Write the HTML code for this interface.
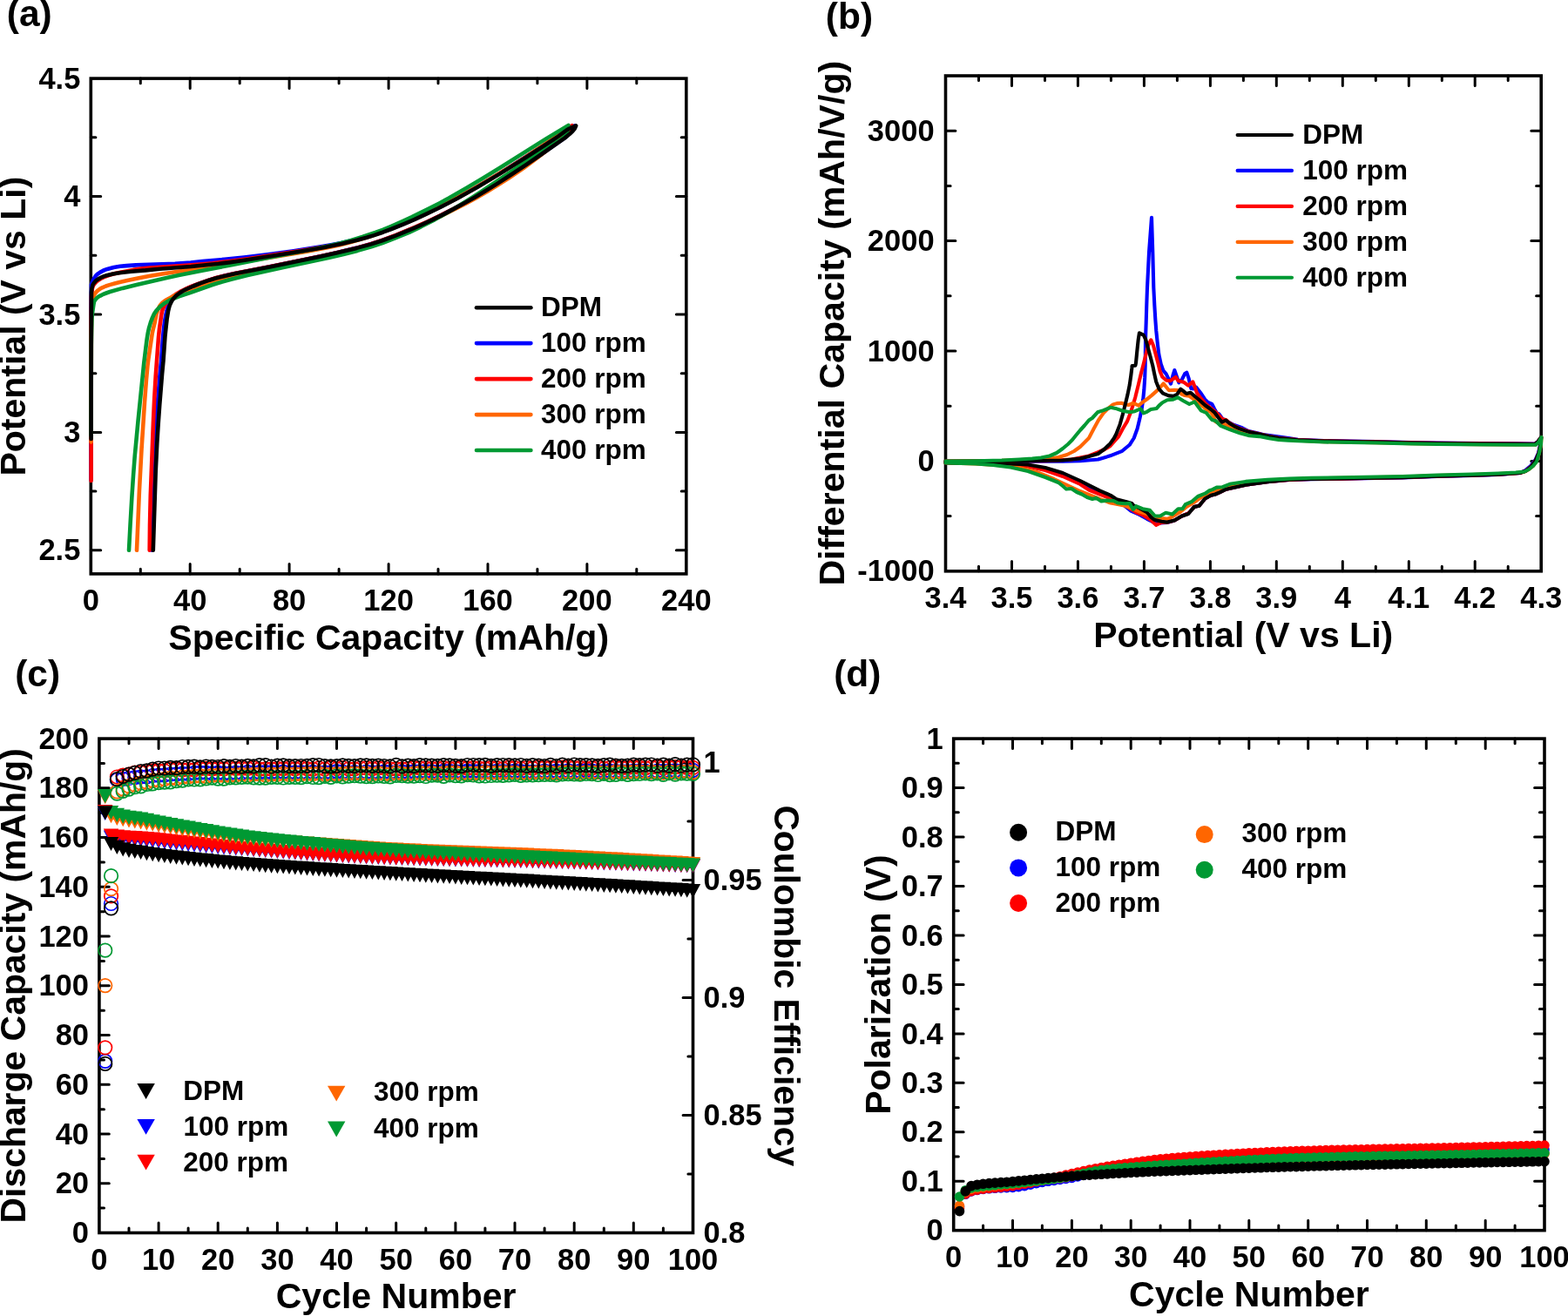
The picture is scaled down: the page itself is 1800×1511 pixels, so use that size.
<!DOCTYPE html>
<html lang="en"><head><meta charset="utf-8"><title>Electrochemical performance: DPM vs 100-400 rpm</title>
<style>html,body{margin:0;padding:0;background:#fff}body{width:1800px;height:1511px;overflow:hidden}svg{display:block}text{font-family:'Liberation Sans', Arial, Helvetica, sans-serif;font-weight:700;fill:#000}</style>
</head><body>
<svg width="1800" height="1511" viewBox="0 0 1800 1511" role="img" aria-label="Four-panel electrochemical performance figure">
<rect width="1800" height="1511" fill="#fff"/>
<g id="panel-a">
<rect x="104.3" y="90.1" width="683.5" height="568.8" fill="none" stroke="#000" stroke-width="3.6"/>
<path d="M161.3 658.9v-5.6M161.3 90.1v5.6M275.2 658.9v-5.6M275.2 90.1v5.6M389.1 658.9v-5.6M389.1 90.1v5.6M503 658.9v-5.6M503 90.1v5.6M616.9 658.9v-5.6M616.9 90.1v5.6M730.8 658.9v-5.6M730.8 90.1v5.6M218.2 658.9v-11.4M218.2 90.1v11.4M332.1 658.9v-11.4M332.1 90.1v11.4M446.1 658.9v-11.4M446.1 90.1v11.4M560 658.9v-11.4M560 90.1v11.4M673.9 658.9v-11.4M673.9 90.1v11.4M104.3 564.1h5.6M787.8 564.1h-5.6M104.3 428.7h5.6M787.8 428.7h-5.6M104.3 293.2h5.6M787.8 293.2h-5.6M104.3 157.8h5.6M787.8 157.8h-5.6M104.3 631.8h11.4M787.8 631.8h-11.4M104.3 496.4h11.4M787.8 496.4h-11.4M104.3 361h11.4M787.8 361h-11.4M104.3 225.5h11.4M787.8 225.5h-11.4" fill="none" stroke="#000" stroke-width="3.0" stroke-linecap="round"/>
<path d="M104.6 551L104.7 364.7L105 328.6L105 327.1L105.3 325.7L105.8 324.3L107.8 320.2L109.4 317.5L110.3 316.3L112.5 314.3L115 312.6L117.6 311.2L120.4 309.9L123.2 308.9L130.5 307L137.9 305.8L145.4 305.1L155.9 304.4L200.9 302.7L218.9 301.5L232.4 300.1L257.8 297.8L280.2 295.5L307.1 292.2L336.9 288.2L366.6 283.6L379.9 281.3L391.7 279L400.5 277L410.7 274.5L419.4 272.1L429.5 269.1L439.4 265.8L449.3 262.1L466 255.3L475.7 251.2L488 245.6L502.9 238.4L513.6 233L525.6 226.7L549.2 213.5L575 198.1L601.7 181.3L632.1 161.8L640.8 156L650.6 149L654.5 146.8L660 144.3L658.6 147L657.8 148.2L655 151.8L650.7 156L647.3 158.9L605.3 188.1L587.8 199.7L572.6 209.5L559.9 217.4L547 225.1L533.9 232.5L520.7 239.7L508.7 246L498 251.3L485.7 257L473.3 262.5L453.9 270.4L438.3 276.1L425.5 280.3L409.6 284.6L386.2 290.2L367.1 294.4L309.7 306.3L269.8 314L258.1 316.6L248 319.2L240.8 321.4L229.5 325.4L221 328.6L214.2 331.7L210.1 333.7L206.3 336L202.6 338.7L199.3 341.7L197.3 344L194.9 347.7L193 351.9L191.2 357.6L190 363.5L189 369.4L187.9 378.4L186.9 388.8L185.1 414.3L183.6 429.3L181.1 460.7L179.3 486.2L178 508.7L177.1 528.2L176.4 547.7L174.2 631.8" fill="none" stroke="#0000ff" stroke-width="4.6" stroke-linejoin="round" stroke-linecap="round"/>
<path d="M104.6 552L104.7 383.8L105 340.3L105.4 334.3L105.9 331.3L106.7 328.5L107.4 327.2L109.4 324.8L110.4 323.7L112.8 321.8L116.6 319.4L119.3 318.1L122.1 317L126.4 315.6L132.2 314.1L139.5 312.4L152.8 309.9L163.2 308.4L172.1 307.5L217.1 304.5L244 302.2L263.4 300L284.2 297.2L351.1 287L367.4 284.3L380.7 281.9L393.9 279.2L405.6 276.4L418.6 272.9L431.5 268.9L441.5 265.5L452.7 261.1L469.3 254.3L481.7 248.8L495.3 242.4L508.8 235.8L522.1 228.9L536.6 221L549.7 213.6L565.2 204.4L579.3 195.8L595.8 185.4L633.5 160.7L640.8 155.5L650.3 148.1L652.8 146.5L656.7 144.2L656.1 147.2L655.6 148.5L654.8 149.7L652.8 152L647.2 157.2L626.9 172.8L612.4 183.4L600.1 192.1L582.6 203.7L568.6 212.6L555.8 220.4L544.1 227.1L530.9 234.3L517.6 241.3L504.2 248L490.6 254.5L476.9 260.6L454.7 269.8L439.2 275.7L426.4 280L410.5 284.4L388.6 289.7L368.1 294.3L310.7 306.1L269.3 314L256.2 317L246 319.6L238.9 321.9L227.5 325.9L219.1 329.2L212.3 332.2L206.9 334.9L201.7 338L198.1 340.7L193.7 344.7L190.6 348.1L188.9 350.5L187 354.6L186 357.5L185.2 361.9L182.9 378.3L182 387.2L178.7 432.2L177.2 457.7L175.9 486.2L172.8 568.7L172 603.3L171.7 631.8" fill="none" stroke="#ff0000" stroke-width="4.6" stroke-linejoin="round" stroke-linecap="round"/>
<path d="M104.6 507.5L104.8 387.3L105 364.8L105.3 352.8L105.8 348.3L106.9 342.4L107.8 339.5L108.4 338.1L109.1 336.9L111.2 334.5L112.3 333.5L114.6 331.8L117.3 330.3L121.5 328.5L125.7 327.1L131.5 325.5L137.4 324L146.2 322.1L159.4 319.3L171.2 317.1L186 314.6L248.4 305.2L297.4 297.7L350.8 288.9L374.5 284.6L389.2 281.5L400.8 278.6L413.8 274.8L429.5 269.7L440.8 265.6L453.4 260.6L470 253.6L483.7 247.4L498.6 240.3L512 233.6L525.3 226.6L541.2 217.9L555.5 209.8L572.3 199.8L586.4 191.1L602.9 180.7L621.7 168.2L645.3 152.1L648.8 149.4L652 146.2L651.9 147.8L651.5 150.7L650.8 151.9L646.6 156.4L644.4 158.4L628.3 172.1L614.2 183.2L600.9 193.1L584.7 204L572.1 212.1L559.2 220L547.5 226.7L535.6 233.2L520.9 240.8L506.1 248.1L491.2 255.1L476 261.8L451.1 272.3L437.1 277.8L424.3 282.1L408.4 286.6L388 291.8L371.9 295.6L310.2 308.9L266.1 318.3L248.5 322.4L235.4 325.9L225.5 329.2L210 335L204.4 337.3L199 339.9L191.1 344.3L188.5 345.9L186.3 347.8L184.3 350.1L182.7 352.6L180.9 356.7L179.5 361.1L177.8 369.9L175.6 378.7L174.7 383.1L170.5 411.3L169.4 420.3L167.9 436.8L166 462.2L162.5 516.2L159.9 564.2L157 631.8" fill="none" stroke="#ff6600" stroke-width="4.6" stroke-linejoin="round" stroke-linecap="round"/>
<path d="M104.6 500L104.8 396.4L105.1 379.8L105.5 364.8L106.1 358.8L107.4 349.9L107.9 346.9L108.5 345.6L109.3 344.3L111.3 342L112.5 341.1L115.1 339.6L117.8 338.2L122 336.5L126.2 335L140.7 330.9L156.7 326.9L190.4 319.2L205.1 316.1L233.1 310.4L267 304L321.5 293.3L358.5 286.3L376.1 282.7L390.7 279.3L402.3 276.2L416.7 271.8L430.9 267L439.4 263.8L449.1 259.8L461.5 254.4L472.4 249.4L492.7 239.4L504.7 233.2L515.2 227.5L536.1 215.5L554.2 204.8L574.6 192.2L626.8 159.4L652.5 143.9L652.2 146.9L651.6 149.8L650.6 152.7L650 154L648.2 156.4L645.9 158.5L643.6 160.3L628.2 169.7L615.5 177.7L598 189.3L573.1 206.2L551.9 220.4L541.8 226.9L526.5 236.4L512.3 244.8L499.2 252.1L483.2 260.3L469.6 266.8L453 273.7L439 279.1L426.2 283.4L410.3 287.9L394.3 292L378.2 295.7L325.3 306.9L284.3 316.1L265.3 320.8L249.4 325.2L243.8 327L218.3 336.1L205.5 340.3L198.4 343L194.4 344.9L190.5 347.2L186.8 349.7L183.3 352.6L181.2 354.8L179.2 357.1L176.7 360.8L174.9 364.9L172.8 370.6L171.1 376.3L169.8 382.2L168.6 389.6L167.3 400L165.3 416.4L158.5 483.6L154.7 523.9L153 546.4L151.3 571.9L149.5 603.3L148 631.8" fill="none" stroke="#009933" stroke-width="4.6" stroke-linejoin="round" stroke-linecap="round"/>
<path d="M104.6 504L104.8 361.3L105 335.7L105.4 331.2L106.5 326.9L107.3 325.6L109.3 323.2L110.3 322.2L112.8 320.4L116.7 318.3L119.5 317.1L122.4 316.2L129.7 314.4L137.1 313.2L150.6 311.7L167 310.4L183.5 308.7L219.4 306L250.8 302.8L264.2 301.1L279.1 299L344.4 288.7L371.1 284.2L393.2 279.8L410.7 275.5L420.9 272.7L429.5 270.1L439.4 266.7L449.3 263L464.6 256.8L475.6 252.1L488 246.4L502.8 239.3L513.6 233.8L525.5 227.5L547.8 215L573.6 199.6L602.9 181.2L635.7 160L640.7 156.7L650.4 149.5L652.9 148L655.6 146.7L661.2 144.4L660 147.2L659.2 148.4L657.4 150.6L654 153.8L648.1 158.6L621 177.5L603.7 189.4L586.1 201L569.7 211.6L556.9 219.5L545.3 226.4L532.2 233.7L519 240.9L507 247.1L496.3 252.4L484 258.1L473 262.9L453.5 270.8L438 276.5L425.1 280.6L409.2 284.9L385.8 290.5L366.7 294.7L310.8 306.3L269.5 314.3L257.8 316.9L247.6 319.5L240.4 321.7L230.5 325.2L222.1 328.5L215.2 331.5L211.1 333.4L207.3 335.7L203.6 338.3L201.4 340.3L198.4 343.7L196.8 346.2L194.9 350.4L194 353.2L193 357.6L191.6 366.5L190.6 375.5L189.5 385.9L187.5 414.4L186.1 429.3L183.2 465.3L181.6 487.8L180.3 508.7L178.7 541.7L175.8 631.8" fill="none" stroke="#000000" stroke-width="4.6" stroke-linejoin="round" stroke-linecap="round"/>
<text x="104.3" y="701.2" font-size="34.5" text-anchor="middle">0</text>
<text x="218.2" y="701.2" font-size="34.5" text-anchor="middle">40</text>
<text x="332.1" y="701.2" font-size="34.5" text-anchor="middle">80</text>
<text x="446.1" y="701.2" font-size="34.5" text-anchor="middle">120</text>
<text x="560" y="701.2" font-size="34.5" text-anchor="middle">160</text>
<text x="673.9" y="701.2" font-size="34.5" text-anchor="middle">200</text>
<text x="787.8" y="701.2" font-size="34.5" text-anchor="middle">240</text>
<text x="92.4" y="643.4" font-size="34.5" text-anchor="end">2.5</text>
<text x="92.4" y="508" font-size="34.5" text-anchor="end">3</text>
<text x="92.4" y="372.6" font-size="34.5" text-anchor="end">3.5</text>
<text x="92.4" y="237.1" font-size="34.5" text-anchor="end">4</text>
<text x="92.4" y="101.7" font-size="34.5" text-anchor="end">4.5</text>
<text x="7.8" y="30.1" font-size="42.5" text-anchor="start">(a)</text>
<text x="446.2" y="746" font-size="41.0" text-anchor="middle">Specific Capacity (mAh/g)</text>
<text x="29.1" y="374.6" font-size="41.0" text-anchor="middle" transform="rotate(-90 29.1 374.6)">Potential (V vs Li)</text>
<path d="M547 353.2L609.4 353.2" fill="none" stroke="#000000" stroke-width="4.6" stroke-linejoin="round" stroke-linecap="round"/>
<text x="621" y="363.1" font-size="31.5" text-anchor="start">DPM</text>
<path d="M547 394.1L609.4 394.1" fill="none" stroke="#0000ff" stroke-width="4.6" stroke-linejoin="round" stroke-linecap="round"/>
<text x="621" y="404" font-size="31.5" text-anchor="start">100 rpm</text>
<path d="M547 435.1L609.4 435.1" fill="none" stroke="#ff0000" stroke-width="4.6" stroke-linejoin="round" stroke-linecap="round"/>
<text x="621" y="445" font-size="31.5" text-anchor="start">200 rpm</text>
<path d="M547 476.1L609.4 476.1" fill="none" stroke="#ff6600" stroke-width="4.6" stroke-linejoin="round" stroke-linecap="round"/>
<text x="621" y="485.9" font-size="31.5" text-anchor="start">300 rpm</text>
<path d="M547 517L609.4 517" fill="none" stroke="#009933" stroke-width="4.6" stroke-linejoin="round" stroke-linecap="round"/>
<text x="621" y="526.9" font-size="31.5" text-anchor="start">400 rpm</text>
</g>
<g id="panel-b">
<rect x="1085.5" y="87" width="683.7" height="568.8" fill="none" stroke="#000" stroke-width="3.6"/>
<path d="M1123.5 655.8v-5.6M1123.5 87v5.6M1199.5 655.8v-5.6M1199.5 87v5.6M1275.4 655.8v-5.6M1275.4 87v5.6M1351.4 655.8v-5.6M1351.4 87v5.6M1427.4 655.8v-5.6M1427.4 87v5.6M1503.3 655.8v-5.6M1503.3 87v5.6M1579.3 655.8v-5.6M1579.3 87v5.6M1655.3 655.8v-5.6M1655.3 87v5.6M1731.2 655.8v-5.6M1731.2 87v5.6M1161.5 655.8v-11.4M1161.5 87v11.4M1237.4 655.8v-11.4M1237.4 87v11.4M1313.4 655.8v-11.4M1313.4 87v11.4M1389.4 655.8v-11.4M1389.4 87v11.4M1465.3 655.8v-11.4M1465.3 87v11.4M1541.3 655.8v-11.4M1541.3 87v11.4M1617.3 655.8v-11.4M1617.3 87v11.4M1693.2 655.8v-11.4M1693.2 87v11.4M1085.5 592.6h5.6M1769.2 592.6h-5.6M1085.5 466.2h5.6M1769.2 466.2h-5.6M1085.5 339.8h5.6M1769.2 339.8h-5.6M1085.5 213.4h5.6M1769.2 213.4h-5.6M1085.5 529.4h11.4M1769.2 529.4h-11.4M1085.5 403h11.4M1769.2 403h-11.4M1085.5 276.6h11.4M1769.2 276.6h-11.4M1085.5 150.2h11.4M1769.2 150.2h-11.4" fill="none" stroke="#000" stroke-width="3.0" stroke-linecap="round"/>
<path d="M1085.5 529.7L1220 529.6L1240 529.3L1260.6 527.5L1274.4 523.3L1288.3 517.8L1296.7 510.8L1301.7 503L1305.6 492.2L1308.3 481.1L1310.6 470L1312.2 458.9L1313.3 447.8L1314.2 433.9L1314.7 420L1315 390L1315.7 370L1316.3 350L1317 330L1319 290L1322 249.7L1323.3 290L1324.3 330L1325.3 350L1326.3 366.7L1327.3 380L1328.7 393.3L1330.3 406.7L1332.7 418L1335.3 425.3L1338.7 429.3L1341.3 434.7L1344 440.7L1346.7 430L1348.3 425L1350.7 432L1353.3 439.3L1356.7 436L1360 429.3L1362.3 427.7L1364.7 434.7L1367.3 446L1370 446.5L1373.3 444.7L1378 450.7L1383.3 458.7L1386.7 462L1391.3 464L1394 469.3L1396.7 474L1399.3 475.3L1403.3 480.7L1410 484.7L1416.7 488L1426 491.3L1433.3 495L1443.3 497.3L1450 499L1459.4 500.3L1478.9 503L1490 504.8L1520 506.1L1550 506.6L1580 507.1L1620 508.1L1650 508.6L1700 509.1L1740 509.4L1762 509.6L1765.5 507L1769.2 502L1768.3 510L1766 520L1762.5 528L1757 535L1751 540L1745 543L1720 544.9L1690 545.9L1650 546.9L1610 548.4L1580 548.9L1540 549.7L1505 550.1L1480 551L1455 553.3L1430 556.7L1407.5 561.7L1400 565.4L1395 567.5L1390 568.8L1383.3 572.5L1376.7 580.5L1370.8 582.1L1364.2 589.5L1356.7 592.5L1348.3 597.5L1340 600L1333 600.5L1327 601L1316.7 595.8L1308 591L1298.3 586.7L1290 580L1275 571L1262.5 566L1250 560.5L1240 554.5L1220 545.5L1200 538.5L1180 534.5L1160 532.7L1085.5 531.3" fill="none" stroke="#0000ff" stroke-width="4.1" stroke-linejoin="round" stroke-linecap="round"/>
<path d="M1085.5 529.7L1200 529.2L1230 527.5L1250 523.5L1260 519.5L1268 516L1274.4 512.2L1279 507L1284.2 501.1L1288.9 492.2L1293.9 483.9L1297.2 475.6L1300 467.2L1303.3 456.1L1306.7 442.2L1310 428.3L1312.2 420L1314.7 410L1318 396.7L1321.3 390.3L1324 396.7L1326.7 406.7L1329.3 416.7L1331.7 426.7L1334.4 432.8L1338.9 436.7L1343.3 437.2L1345.3 436L1349.7 433L1352.7 437.3L1358.7 438.7L1364 442.7L1369.3 438.3L1372 445.3L1374 451.3L1378 456.7L1383.3 462.7L1390 468.7L1396.7 474L1403.3 481.3L1407.3 482L1411.3 485.5L1416.7 488.8L1423.3 492L1434.4 495.8L1445.6 498.2L1456.7 500.8L1467.8 502.8L1490 505.1L1520 506.3L1550 506.8L1580 507.3L1620 508.3L1650 508.8L1700 509.3L1740 509.6L1762 509.8L1765.5 507L1769.2 502L1768.5 510L1766.5 520L1763 528.3L1758 535.3L1752 540.3L1745 543L1720 544.8L1690 545.8L1650 546.8L1610 548.3L1580 548.8L1540 549.6L1505 550L1480 550.9L1455 553.3L1430 556.7L1407.5 561.7L1400 565.4L1395 567.5L1390 568.8L1383.3 572.5L1376.7 580.5L1370.8 582.1L1364.2 589.5L1356.7 592.5L1348.3 597.5L1340 599.8L1333.3 600L1327.1 602.9L1320.8 596.7L1312.5 591.7L1304.2 588.3L1296 583L1288 578L1275 572.5L1262.5 567.5L1250 562.5L1240 556L1220 547L1200 540L1180 535.5L1160 533L1085.5 531.3" fill="none" stroke="#ff0000" stroke-width="4.1" stroke-linejoin="round" stroke-linecap="round"/>
<path d="M1085.5 529.6L1150 528.8L1185 527.5L1205 526.5L1215 525L1225 522L1233 518L1240 513L1246 507L1250 503L1255.6 492.2L1261.1 482.2L1266.7 474.4L1272.2 468.9L1277.8 464.4L1282.2 463.1L1287.8 462.8L1292 464.5L1295.6 465L1300 463.1L1303.3 463.9L1307.2 465.6L1311.1 462.2L1316.7 458.3L1322.2 453.9L1327.8 448.9L1332.2 444.4L1335.6 440.3L1338.9 444.5L1342 448.3L1348 447.7L1352 448L1356.7 452.7L1360 454L1365.3 454.7L1370 458L1376.7 463.3L1383.3 468.7L1390 473.3L1393.3 478.7L1395.3 484L1400 486L1406.7 487.3L1413.3 490L1423.3 494L1434.4 497.5L1445.6 499.5L1456.7 502L1467.8 504L1490 505.8L1520 507.1L1550 507.6L1580 508.1L1620 509.1L1650 509.6L1700 510.1L1740 510.4L1763 510.5L1766 508L1769.4 502L1769 510L1767 520L1764 529.5L1760 535L1755 539L1750 541.8L1740 543.1L1720 544.1L1690 545.1L1650 546.1L1610 547.6L1580 548.1L1540 548.9L1505 549.4L1480 550.2L1455 551.5L1430 553.8L1411.7 557L1400 562.1L1391.7 564.2L1379.2 570.8L1370.8 576.7L1362.5 581.7L1354.2 588.3L1345.8 593.3L1340 595.8L1333.3 595L1325 593L1316 590L1308.3 587.5L1300 584L1291.7 580.8L1283 579L1275 577.5L1262.5 573L1250 567.8L1240 564L1225 557L1210 550L1190 542L1170 537L1150 534.5L1120 532.5L1085.5 531.4" fill="none" stroke="#ff6600" stroke-width="4.1" stroke-linejoin="round" stroke-linecap="round"/>
<path d="M1085.5 529.7L1180 529.3L1220 528.5L1240 526.5L1250 524L1260.6 521L1268 515.5L1274.4 509.4L1278.9 503L1281.4 498.3L1285.6 487.5L1288.9 475.6L1291.7 464.4L1294.4 453.3L1296.7 442.2L1298.3 431.1L1299.3 423L1299.6 420L1303.4 419.7L1304 416.7L1305.3 403.3L1306.7 390L1307.9 382.3L1312.7 384.7L1315.3 390L1318 400L1320.7 410L1323.3 420L1325 428.3L1327.2 438.3L1330.6 446.7L1335 451.7L1341.7 454.4L1347.2 454.9L1351.3 452.7L1355.3 446.7L1358 448.7L1362 452L1366.7 450.7L1371.3 454.7L1376.7 459.3L1383.3 465.3L1390 470L1394 473.3L1398 478.7L1402.7 484.7L1407.3 482.5L1411.3 486L1416.7 489.3L1423.3 492.4L1434.4 496.1L1445.6 498.5L1456.7 501.1L1467.8 503L1490 505.3L1520 506.5L1550 507L1580 507.5L1620 508.5L1650 509L1700 509.5L1740 509.8L1762 510L1765.5 507L1769.2 502L1768.5 510L1766.5 520L1763 528.5L1758 535.5L1752 540.5L1745 543L1720 544.7L1690 545.7L1650 546.7L1610 548.2L1580 548.7L1540 549.5L1505 550L1480 550.8L1455 553.3L1430 556.7L1407.5 561.7L1400 565.4L1395 567.5L1390 568.8L1383.3 572.5L1376.7 580.8L1370.8 582.1L1364.2 590L1356.7 592.5L1348.3 597.5L1340 599.6L1333.3 598.8L1325 596.7L1320.8 593.3L1316.7 588.3L1308 583.5L1301.5 580.5L1299.2 577.9L1293.3 576.2L1281.7 573.3L1275 568.8L1262.5 563.3L1250 557.1L1240 552L1220 543L1200 537L1180 533.5L1160 532.5L1085.5 531.3" fill="none" stroke="#000000" stroke-width="4.1" stroke-linejoin="round" stroke-linecap="round"/>
<path d="M1085.5 529.5L1120 529.2L1150 528.5L1170 527.5L1185 526.5L1195 525.5L1205 523.5L1213 520L1220 515L1226 510L1231 505L1235 500L1240 494L1245 488.5L1250 482.5L1253.9 480L1260 473.3L1266.7 471.1L1275 467.8L1280.6 468.9L1288.9 471.7L1297.2 473.3L1302.8 472.2L1309.4 469.4L1312.8 474.4L1316.7 472.8L1321.1 470L1327.8 468.9L1330.6 465.6L1334.4 462.2L1340 459.3L1346.7 458.7L1352 456.3L1358 460L1365.3 464L1371.3 461.3L1375.3 466.7L1378.7 471.3L1384.7 474L1388 478L1391.3 482L1395.6 483.3L1401.1 488.9L1412.2 493.3L1423.3 497.2L1434.4 500.3L1445.6 501.1L1456.7 503.3L1467.8 505L1478.9 505.6L1490 506.3L1520 507.5L1550 508L1580 508.5L1620 509.5L1650 510L1700 510.5L1740 510.8L1763 510.8L1766 508L1769.5 502L1769 510L1767 520L1764 530L1760 535L1755 539L1750 541.5L1740 542.5L1720 543.5L1690 544.5L1650 545.5L1610 547L1580 547.5L1540 548.3L1505 548.8L1480 549.6L1455 550.8L1430 552.9L1411.7 555.8L1403.3 559.2L1396.7 559.6L1391.7 562.1L1388.3 563.3L1383.3 566.7L1375 570L1368.3 575.8L1360.8 579.2L1357.5 584.2L1352.5 584.2L1345.8 590.4L1338.3 588.8L1331.7 592.5L1325.8 592.5L1320 585.8L1311.7 584.2L1304.2 581.2L1300.8 585L1296.7 577.9L1291.7 578.3L1283.3 577.5L1278.3 575L1270.8 574.6L1264.2 575.4L1258.3 571.7L1254 573L1248 571L1242 567.5L1236 565L1230 561L1224 561.5L1220 558L1215 554L1200 548L1180 541L1160 536.5L1140 534L1120 532.5L1085.5 531.5" fill="none" stroke="#009933" stroke-width="4.1" stroke-linejoin="round" stroke-linecap="round"/>
<text x="1085.5" y="698.1" font-size="34.5" text-anchor="middle">3.4</text>
<text x="1161.5" y="698.1" font-size="34.5" text-anchor="middle">3.5</text>
<text x="1237.4" y="698.1" font-size="34.5" text-anchor="middle">3.6</text>
<text x="1313.4" y="698.1" font-size="34.5" text-anchor="middle">3.7</text>
<text x="1389.4" y="698.1" font-size="34.5" text-anchor="middle">3.8</text>
<text x="1465.3" y="698.1" font-size="34.5" text-anchor="middle">3.9</text>
<text x="1541.3" y="698.1" font-size="34.5" text-anchor="middle">4</text>
<text x="1617.3" y="698.1" font-size="34.5" text-anchor="middle">4.1</text>
<text x="1693.2" y="698.1" font-size="34.5" text-anchor="middle">4.2</text>
<text x="1769.2" y="698.1" font-size="34.5" text-anchor="middle">4.3</text>
<text x="1072.6" y="667.4" font-size="34.5" text-anchor="end">-1000</text>
<text x="1072.6" y="541" font-size="34.5" text-anchor="end">0</text>
<text x="1072.6" y="414.6" font-size="34.5" text-anchor="end">1000</text>
<text x="1072.6" y="288.2" font-size="34.5" text-anchor="end">2000</text>
<text x="1072.6" y="161.8" font-size="34.5" text-anchor="end">3000</text>
<text x="947.8" y="32.5" font-size="42.5" text-anchor="start">(b)</text>
<text x="1427.2" y="742.9" font-size="41.0" text-anchor="middle">Potential (V vs Li)</text>
<text x="968.9" y="371.2" font-size="41.1" text-anchor="middle" transform="rotate(-90 968.9 371.2)">Differential Capacity (mAh/V/g)</text>
<path d="M1420.6 155L1483 155" fill="none" stroke="#000000" stroke-width="4.1" stroke-linejoin="round" stroke-linecap="round"/>
<text x="1495.2" y="164.8" font-size="31.5" text-anchor="start">DPM</text>
<path d="M1420.6 195.9L1483 195.9" fill="none" stroke="#0000ff" stroke-width="4.1" stroke-linejoin="round" stroke-linecap="round"/>
<text x="1495.2" y="205.8" font-size="31.5" text-anchor="start">100 rpm</text>
<path d="M1420.6 236.9L1483 236.9" fill="none" stroke="#ff0000" stroke-width="4.1" stroke-linejoin="round" stroke-linecap="round"/>
<text x="1495.2" y="246.7" font-size="31.5" text-anchor="start">200 rpm</text>
<path d="M1420.6 277.9L1483 277.9" fill="none" stroke="#ff6600" stroke-width="4.1" stroke-linejoin="round" stroke-linecap="round"/>
<text x="1495.2" y="287.7" font-size="31.5" text-anchor="start">300 rpm</text>
<path d="M1420.6 318.8L1483 318.8" fill="none" stroke="#009933" stroke-width="4.1" stroke-linejoin="round" stroke-linecap="round"/>
<text x="1495.2" y="328.6" font-size="31.5" text-anchor="start">400 rpm</text>
</g>
<g id="panel-c">
<rect x="113.9" y="848.1" width="681.6" height="567.4" fill="none" stroke="#000" stroke-width="3.6"/>
<path d="M148 1415.5v-5.6M148 848.1v5.6M216.1 1415.5v-5.6M216.1 848.1v5.6M284.3 1415.5v-5.6M284.3 848.1v5.6M352.5 1415.5v-5.6M352.5 848.1v5.6M420.6 1415.5v-5.6M420.6 848.1v5.6M488.8 1415.5v-5.6M488.8 848.1v5.6M556.9 1415.5v-5.6M556.9 848.1v5.6M625.1 1415.5v-5.6M625.1 848.1v5.6M693.3 1415.5v-5.6M693.3 848.1v5.6M761.4 1415.5v-5.6M761.4 848.1v5.6M182.1 1415.5v-11.4M182.1 848.1v11.4M250.2 1415.5v-11.4M250.2 848.1v11.4M318.4 1415.5v-11.4M318.4 848.1v11.4M386.5 1415.5v-11.4M386.5 848.1v11.4M454.7 1415.5v-11.4M454.7 848.1v11.4M522.9 1415.5v-11.4M522.9 848.1v11.4M591 1415.5v-11.4M591 848.1v11.4M659.2 1415.5v-11.4M659.2 848.1v11.4M727.3 1415.5v-11.4M727.3 848.1v11.4M113.9 1387.1h5.6M113.9 1330.4h5.6M113.9 1273.7h5.6M113.9 1216.9h5.6M113.9 1160.2h5.6M113.9 1103.4h5.6M113.9 1046.7h5.6M113.9 990h5.6M113.9 933.2h5.6M113.9 876.5h5.6M113.9 1358.8h11.4M113.9 1302h11.4M113.9 1245.3h11.4M113.9 1188.5h11.4M113.9 1131.8h11.4M113.9 1075.1h11.4M113.9 1018.3h11.4M113.9 961.6h11.4M113.9 904.8h11.4M795.5 1348h-5.6M795.5 1213h-5.6M795.5 1077.9h-5.6M795.5 942.9h-5.6M795.5 1280.5h-11.4M795.5 1145.4h-11.4M795.5 1010.4h-11.4M795.5 875.4h-11.4" fill="none" stroke="#000" stroke-width="3.0" stroke-linecap="round"/>
<path d="M112 925.9h17.4l-8.7 16.2zM118.8 953.4h17.4l-8.7 16.2zM125.6 954.6h17.4l-8.7 16.2zM132.5 955.3h17.4l-8.7 16.2zM139.3 955.7h17.4l-8.7 16.2zM146.1 956h17.4l-8.7 16.2zM152.9 956.4h17.4l-8.7 16.2zM159.7 957h17.4l-8.7 16.2zM166.5 957.7h17.4l-8.7 16.2zM173.4 958.3h17.4l-8.7 16.2zM180.2 959h17.4l-8.7 16.2zM187 959.7h17.4l-8.7 16.2zM193.8 960.4h17.4l-8.7 16.2zM200.6 961h17.4l-8.7 16.2zM207.4 961.7h17.4l-8.7 16.2zM214.3 962.3h17.4l-8.7 16.2zM221.1 962.9h17.4l-8.7 16.2zM227.9 963.5h17.4l-8.7 16.2zM234.7 964.1h17.4l-8.7 16.2zM241.5 964.7h17.4l-8.7 16.2zM248.3 965.3h17.4l-8.7 16.2zM255.2 965.8h17.4l-8.7 16.2zM262 966.4h17.4l-8.7 16.2zM268.8 966.9h17.4l-8.7 16.2zM275.6 967.4h17.4l-8.7 16.2zM282.4 967.9h17.4l-8.7 16.2zM289.2 968.4h17.4l-8.7 16.2zM296 968.9h17.4l-8.7 16.2zM302.9 969.4h17.4l-8.7 16.2zM309.7 969.9h17.4l-8.7 16.2zM316.5 970.4h17.4l-8.7 16.2zM323.3 970.8h17.4l-8.7 16.2zM330.1 971.3h17.4l-8.7 16.2zM336.9 971.8h17.4l-8.7 16.2zM343.8 972.2h17.4l-8.7 16.2zM350.6 972.7h17.4l-8.7 16.2zM357.4 973.1h17.4l-8.7 16.2zM364.2 973.6h17.4l-8.7 16.2zM371 974h17.4l-8.7 16.2zM377.8 974.4h17.4l-8.7 16.2zM384.7 974.8h17.4l-8.7 16.2zM391.5 975.2h17.4l-8.7 16.2zM398.3 975.5h17.4l-8.7 16.2zM405.1 975.9h17.4l-8.7 16.2zM411.9 976.2h17.4l-8.7 16.2zM418.7 976.5h17.4l-8.7 16.2zM425.6 976.8h17.4l-8.7 16.2zM432.4 977h17.4l-8.7 16.2zM439.2 977.2h17.4l-8.7 16.2zM446 977.5h17.4l-8.7 16.2zM452.8 977.7h17.4l-8.7 16.2zM459.6 977.9h17.4l-8.7 16.2zM466.4 978.1h17.4l-8.7 16.2zM473.3 978.2h17.4l-8.7 16.2zM480.1 978.4h17.4l-8.7 16.2zM486.9 978.6h17.4l-8.7 16.2zM493.7 978.7h17.4l-8.7 16.2zM500.5 978.9h17.4l-8.7 16.2zM507.3 979.1h17.4l-8.7 16.2zM514.2 979.2h17.4l-8.7 16.2zM521 979.3h17.4l-8.7 16.2zM527.8 979.5h17.4l-8.7 16.2zM534.6 979.6h17.4l-8.7 16.2zM541.4 979.8h17.4l-8.7 16.2zM548.2 979.9h17.4l-8.7 16.2zM555.1 980h17.4l-8.7 16.2zM561.9 980.2h17.4l-8.7 16.2zM568.7 980.3h17.4l-8.7 16.2zM575.5 980.4h17.4l-8.7 16.2zM582.3 980.6h17.4l-8.7 16.2zM589.1 980.7h17.4l-8.7 16.2zM596 980.9h17.4l-8.7 16.2zM602.8 981h17.4l-8.7 16.2zM609.6 981.2h17.4l-8.7 16.2zM616.4 981.4h17.4l-8.7 16.2zM623.2 981.5h17.4l-8.7 16.2zM630 981.7h17.4l-8.7 16.2zM636.8 981.9h17.4l-8.7 16.2zM643.7 982.1h17.4l-8.7 16.2zM650.5 982.2h17.4l-8.7 16.2zM657.3 982.4h17.4l-8.7 16.2zM664.1 982.6h17.4l-8.7 16.2zM670.9 982.8h17.4l-8.7 16.2zM677.7 983h17.4l-8.7 16.2zM684.6 983.2h17.4l-8.7 16.2zM691.4 983.4h17.4l-8.7 16.2zM698.2 983.6h17.4l-8.7 16.2zM705 983.8h17.4l-8.7 16.2zM711.8 984h17.4l-8.7 16.2zM718.6 984.2h17.4l-8.7 16.2zM725.5 984.4h17.4l-8.7 16.2zM732.3 984.6h17.4l-8.7 16.2zM739.1 984.8h17.4l-8.7 16.2zM745.9 985h17.4l-8.7 16.2zM752.7 985.2h17.4l-8.7 16.2zM759.5 985.4h17.4l-8.7 16.2zM766.4 985.7h17.4l-8.7 16.2zM773.2 985.9h17.4l-8.7 16.2zM780 986.1h17.4l-8.7 16.2zM786.8 986.3h17.4l-8.7 16.2z" fill="#0000ff"/>
<path d="M113 1218.4a7.75 7.75 0 1 0 15.5 0a7.75 7.75 0 1 0 -15.5 0M119.8 1037.5a7.75 7.75 0 1 0 15.5 0a7.75 7.75 0 1 0 -15.5 0M126.6 895.5a7.75 7.75 0 1 0 15.5 0a7.75 7.75 0 1 0 -15.5 0M133.4 894.3a7.75 7.75 0 1 0 15.5 0a7.75 7.75 0 1 0 -15.5 0M140.2 893.5a7.75 7.75 0 1 0 15.5 0a7.75 7.75 0 1 0 -15.5 0M147 892.6a7.75 7.75 0 1 0 15.5 0a7.75 7.75 0 1 0 -15.5 0M153.9 891.8a7.75 7.75 0 1 0 15.5 0a7.75 7.75 0 1 0 -15.5 0M160.7 891.9a7.75 7.75 0 1 0 15.5 0a7.75 7.75 0 1 0 -15.5 0M167.5 890.5a7.75 7.75 0 1 0 15.5 0a7.75 7.75 0 1 0 -15.5 0M174.3 890.2a7.75 7.75 0 1 0 15.5 0a7.75 7.75 0 1 0 -15.5 0M181.1 889.9a7.75 7.75 0 1 0 15.5 0a7.75 7.75 0 1 0 -15.5 0M187.9 889a7.75 7.75 0 1 0 15.5 0a7.75 7.75 0 1 0 -15.5 0M194.8 888.9a7.75 7.75 0 1 0 15.5 0a7.75 7.75 0 1 0 -15.5 0M201.6 888.1a7.75 7.75 0 1 0 15.5 0a7.75 7.75 0 1 0 -15.5 0M208.4 888.4a7.75 7.75 0 1 0 15.5 0a7.75 7.75 0 1 0 -15.5 0M215.2 887.3a7.75 7.75 0 1 0 15.5 0a7.75 7.75 0 1 0 -15.5 0M222 887.1a7.75 7.75 0 1 0 15.5 0a7.75 7.75 0 1 0 -15.5 0M228.8 887.1a7.75 7.75 0 1 0 15.5 0a7.75 7.75 0 1 0 -15.5 0M235.7 887.8a7.75 7.75 0 1 0 15.5 0a7.75 7.75 0 1 0 -15.5 0M242.5 887.1a7.75 7.75 0 1 0 15.5 0a7.75 7.75 0 1 0 -15.5 0M249.3 887.9a7.75 7.75 0 1 0 15.5 0a7.75 7.75 0 1 0 -15.5 0M256.1 887.8a7.75 7.75 0 1 0 15.5 0a7.75 7.75 0 1 0 -15.5 0M262.9 887a7.75 7.75 0 1 0 15.5 0a7.75 7.75 0 1 0 -15.5 0M269.7 887.6a7.75 7.75 0 1 0 15.5 0a7.75 7.75 0 1 0 -15.5 0M276.6 886.3a7.75 7.75 0 1 0 15.5 0a7.75 7.75 0 1 0 -15.5 0M283.4 887.4a7.75 7.75 0 1 0 15.5 0a7.75 7.75 0 1 0 -15.5 0M290.2 886.6a7.75 7.75 0 1 0 15.5 0a7.75 7.75 0 1 0 -15.5 0M297 886.4a7.75 7.75 0 1 0 15.5 0a7.75 7.75 0 1 0 -15.5 0M303.8 886.7a7.75 7.75 0 1 0 15.5 0a7.75 7.75 0 1 0 -15.5 0M310.6 886.6a7.75 7.75 0 1 0 15.5 0a7.75 7.75 0 1 0 -15.5 0M317.4 886.1a7.75 7.75 0 1 0 15.5 0a7.75 7.75 0 1 0 -15.5 0M324.3 886.9a7.75 7.75 0 1 0 15.5 0a7.75 7.75 0 1 0 -15.5 0M331.1 886.8a7.75 7.75 0 1 0 15.5 0a7.75 7.75 0 1 0 -15.5 0M337.9 886.5a7.75 7.75 0 1 0 15.5 0a7.75 7.75 0 1 0 -15.5 0M344.7 887a7.75 7.75 0 1 0 15.5 0a7.75 7.75 0 1 0 -15.5 0M351.5 886.3a7.75 7.75 0 1 0 15.5 0a7.75 7.75 0 1 0 -15.5 0M358.3 887a7.75 7.75 0 1 0 15.5 0a7.75 7.75 0 1 0 -15.5 0M365.2 886.8a7.75 7.75 0 1 0 15.5 0a7.75 7.75 0 1 0 -15.5 0M372 886.5a7.75 7.75 0 1 0 15.5 0a7.75 7.75 0 1 0 -15.5 0M378.8 885.7a7.75 7.75 0 1 0 15.5 0a7.75 7.75 0 1 0 -15.5 0M385.6 886a7.75 7.75 0 1 0 15.5 0a7.75 7.75 0 1 0 -15.5 0M392.4 887a7.75 7.75 0 1 0 15.5 0a7.75 7.75 0 1 0 -15.5 0M399.2 886.7a7.75 7.75 0 1 0 15.5 0a7.75 7.75 0 1 0 -15.5 0M406.1 887a7.75 7.75 0 1 0 15.5 0a7.75 7.75 0 1 0 -15.5 0M412.9 886a7.75 7.75 0 1 0 15.5 0a7.75 7.75 0 1 0 -15.5 0M419.7 886.9a7.75 7.75 0 1 0 15.5 0a7.75 7.75 0 1 0 -15.5 0M426.5 886.6a7.75 7.75 0 1 0 15.5 0a7.75 7.75 0 1 0 -15.5 0M433.3 885.9a7.75 7.75 0 1 0 15.5 0a7.75 7.75 0 1 0 -15.5 0M440.1 886.5a7.75 7.75 0 1 0 15.5 0a7.75 7.75 0 1 0 -15.5 0M447 886.6a7.75 7.75 0 1 0 15.5 0a7.75 7.75 0 1 0 -15.5 0M453.8 886.1a7.75 7.75 0 1 0 15.5 0a7.75 7.75 0 1 0 -15.5 0M460.6 886.3a7.75 7.75 0 1 0 15.5 0a7.75 7.75 0 1 0 -15.5 0M467.4 885.7a7.75 7.75 0 1 0 15.5 0a7.75 7.75 0 1 0 -15.5 0M474.2 885.9a7.75 7.75 0 1 0 15.5 0a7.75 7.75 0 1 0 -15.5 0M481 885.4a7.75 7.75 0 1 0 15.5 0a7.75 7.75 0 1 0 -15.5 0M487.8 885.9a7.75 7.75 0 1 0 15.5 0a7.75 7.75 0 1 0 -15.5 0M494.7 886.4a7.75 7.75 0 1 0 15.5 0a7.75 7.75 0 1 0 -15.5 0M501.5 885.2a7.75 7.75 0 1 0 15.5 0a7.75 7.75 0 1 0 -15.5 0M508.3 885.4a7.75 7.75 0 1 0 15.5 0a7.75 7.75 0 1 0 -15.5 0M515.1 885.9a7.75 7.75 0 1 0 15.5 0a7.75 7.75 0 1 0 -15.5 0M521.9 885.9a7.75 7.75 0 1 0 15.5 0a7.75 7.75 0 1 0 -15.5 0M528.7 885.2a7.75 7.75 0 1 0 15.5 0a7.75 7.75 0 1 0 -15.5 0M535.6 885.3a7.75 7.75 0 1 0 15.5 0a7.75 7.75 0 1 0 -15.5 0M542.4 885.6a7.75 7.75 0 1 0 15.5 0a7.75 7.75 0 1 0 -15.5 0M549.2 885.9a7.75 7.75 0 1 0 15.5 0a7.75 7.75 0 1 0 -15.5 0M556 885.9a7.75 7.75 0 1 0 15.5 0a7.75 7.75 0 1 0 -15.5 0M562.8 885.4a7.75 7.75 0 1 0 15.5 0a7.75 7.75 0 1 0 -15.5 0M569.6 885.5a7.75 7.75 0 1 0 15.5 0a7.75 7.75 0 1 0 -15.5 0M576.5 885.6a7.75 7.75 0 1 0 15.5 0a7.75 7.75 0 1 0 -15.5 0M583.3 885.1a7.75 7.75 0 1 0 15.5 0a7.75 7.75 0 1 0 -15.5 0M590.1 885.5a7.75 7.75 0 1 0 15.5 0a7.75 7.75 0 1 0 -15.5 0M596.9 885.8a7.75 7.75 0 1 0 15.5 0a7.75 7.75 0 1 0 -15.5 0M603.7 886.2a7.75 7.75 0 1 0 15.5 0a7.75 7.75 0 1 0 -15.5 0M610.5 885.8a7.75 7.75 0 1 0 15.5 0a7.75 7.75 0 1 0 -15.5 0M617.4 885a7.75 7.75 0 1 0 15.5 0a7.75 7.75 0 1 0 -15.5 0M624.2 885.9a7.75 7.75 0 1 0 15.5 0a7.75 7.75 0 1 0 -15.5 0M631 885.2a7.75 7.75 0 1 0 15.5 0a7.75 7.75 0 1 0 -15.5 0M637.8 885.6a7.75 7.75 0 1 0 15.5 0a7.75 7.75 0 1 0 -15.5 0M644.6 884.8a7.75 7.75 0 1 0 15.5 0a7.75 7.75 0 1 0 -15.5 0M651.4 885.9a7.75 7.75 0 1 0 15.5 0a7.75 7.75 0 1 0 -15.5 0M658.2 885.1a7.75 7.75 0 1 0 15.5 0a7.75 7.75 0 1 0 -15.5 0M665.1 884.7a7.75 7.75 0 1 0 15.5 0a7.75 7.75 0 1 0 -15.5 0M671.9 885.2a7.75 7.75 0 1 0 15.5 0a7.75 7.75 0 1 0 -15.5 0M678.7 885.6a7.75 7.75 0 1 0 15.5 0a7.75 7.75 0 1 0 -15.5 0M685.5 885.7a7.75 7.75 0 1 0 15.5 0a7.75 7.75 0 1 0 -15.5 0M692.3 885a7.75 7.75 0 1 0 15.5 0a7.75 7.75 0 1 0 -15.5 0M699.1 885.4a7.75 7.75 0 1 0 15.5 0a7.75 7.75 0 1 0 -15.5 0M706 885.5a7.75 7.75 0 1 0 15.5 0a7.75 7.75 0 1 0 -15.5 0M712.8 885.7a7.75 7.75 0 1 0 15.5 0a7.75 7.75 0 1 0 -15.5 0M719.6 885.1a7.75 7.75 0 1 0 15.5 0a7.75 7.75 0 1 0 -15.5 0M726.4 885a7.75 7.75 0 1 0 15.5 0a7.75 7.75 0 1 0 -15.5 0M733.2 885.2a7.75 7.75 0 1 0 15.5 0a7.75 7.75 0 1 0 -15.5 0M740 886a7.75 7.75 0 1 0 15.5 0a7.75 7.75 0 1 0 -15.5 0M746.9 885.1a7.75 7.75 0 1 0 15.5 0a7.75 7.75 0 1 0 -15.5 0M753.7 885.4a7.75 7.75 0 1 0 15.5 0a7.75 7.75 0 1 0 -15.5 0M760.5 885.1a7.75 7.75 0 1 0 15.5 0a7.75 7.75 0 1 0 -15.5 0M767.3 884.7a7.75 7.75 0 1 0 15.5 0a7.75 7.75 0 1 0 -15.5 0M774.1 885.6a7.75 7.75 0 1 0 15.5 0a7.75 7.75 0 1 0 -15.5 0M780.9 885.4a7.75 7.75 0 1 0 15.5 0a7.75 7.75 0 1 0 -15.5 0M787.8 884.4a7.75 7.75 0 1 0 15.5 0a7.75 7.75 0 1 0 -15.5 0" fill="none" stroke="#0000ff" stroke-width="1.7"/>
<path d="M112 924.1h17.4l-8.7 16.2zM118.8 951.4h17.4l-8.7 16.2zM125.6 952.6h17.4l-8.7 16.2zM132.5 953.3h17.4l-8.7 16.2zM139.3 953.7h17.4l-8.7 16.2zM146.1 954h17.4l-8.7 16.2zM152.9 954.4h17.4l-8.7 16.2zM159.7 955h17.4l-8.7 16.2zM166.5 955.6h17.4l-8.7 16.2zM173.4 956.3h17.4l-8.7 16.2zM180.2 957h17.4l-8.7 16.2zM187 957.7h17.4l-8.7 16.2zM193.8 958.4h17.4l-8.7 16.2zM200.6 959.1h17.4l-8.7 16.2zM207.4 959.8h17.4l-8.7 16.2zM214.3 960.4h17.4l-8.7 16.2zM221.1 961.1h17.4l-8.7 16.2zM227.9 961.9h17.4l-8.7 16.2zM234.7 962.6h17.4l-8.7 16.2zM241.5 963.3h17.4l-8.7 16.2zM248.3 964h17.4l-8.7 16.2zM255.2 964.8h17.4l-8.7 16.2zM262 965.4h17.4l-8.7 16.2zM268.8 966.1h17.4l-8.7 16.2zM275.6 966.6h17.4l-8.7 16.2zM282.4 967.2h17.4l-8.7 16.2zM289.2 967.7h17.4l-8.7 16.2zM296 968.3h17.4l-8.7 16.2zM302.9 968.8h17.4l-8.7 16.2zM309.7 969.4h17.4l-8.7 16.2zM316.5 969.9h17.4l-8.7 16.2zM323.3 970.4h17.4l-8.7 16.2zM330.1 970.9h17.4l-8.7 16.2zM336.9 971.4h17.4l-8.7 16.2zM343.8 971.9h17.4l-8.7 16.2zM350.6 972.3h17.4l-8.7 16.2zM357.4 972.8h17.4l-8.7 16.2zM364.2 973.2h17.4l-8.7 16.2zM371 973.7h17.4l-8.7 16.2zM377.8 974.1h17.4l-8.7 16.2zM384.7 974.5h17.4l-8.7 16.2zM391.5 974.9h17.4l-8.7 16.2zM398.3 975.2h17.4l-8.7 16.2zM405.1 975.6h17.4l-8.7 16.2zM411.9 975.9h17.4l-8.7 16.2zM418.7 976.2h17.4l-8.7 16.2zM425.6 976.4h17.4l-8.7 16.2zM432.4 976.7h17.4l-8.7 16.2zM439.2 976.9h17.4l-8.7 16.2zM446 977.2h17.4l-8.7 16.2zM452.8 977.4h17.4l-8.7 16.2zM459.6 977.6h17.4l-8.7 16.2zM466.4 977.8h17.4l-8.7 16.2zM473.3 977.9h17.4l-8.7 16.2zM480.1 978.1h17.4l-8.7 16.2zM486.9 978.3h17.4l-8.7 16.2zM493.7 978.5h17.4l-8.7 16.2zM500.5 978.6h17.4l-8.7 16.2zM507.3 978.8h17.4l-8.7 16.2zM514.2 978.9h17.4l-8.7 16.2zM521 979.1h17.4l-8.7 16.2zM527.8 979.2h17.4l-8.7 16.2zM534.6 979.3h17.4l-8.7 16.2zM541.4 979.5h17.4l-8.7 16.2zM548.2 979.6h17.4l-8.7 16.2zM555.1 979.7h17.4l-8.7 16.2zM561.9 979.9h17.4l-8.7 16.2zM568.7 980h17.4l-8.7 16.2zM575.5 980.1h17.4l-8.7 16.2zM582.3 980.3h17.4l-8.7 16.2zM589.1 980.4h17.4l-8.7 16.2zM596 980.6h17.4l-8.7 16.2zM602.8 980.7h17.4l-8.7 16.2zM609.6 980.9h17.4l-8.7 16.2zM616.4 981.1h17.4l-8.7 16.2zM623.2 981.2h17.4l-8.7 16.2zM630 981.4h17.4l-8.7 16.2zM636.8 981.6h17.4l-8.7 16.2zM643.7 981.8h17.4l-8.7 16.2zM650.5 982h17.4l-8.7 16.2zM657.3 982.1h17.4l-8.7 16.2zM664.1 982.3h17.4l-8.7 16.2zM670.9 982.5h17.4l-8.7 16.2zM677.7 982.7h17.4l-8.7 16.2zM684.6 982.9h17.4l-8.7 16.2zM691.4 983.1h17.4l-8.7 16.2zM698.2 983.3h17.4l-8.7 16.2zM705 983.5h17.4l-8.7 16.2zM711.8 983.7h17.4l-8.7 16.2zM718.6 983.9h17.4l-8.7 16.2zM725.5 984.1h17.4l-8.7 16.2zM732.3 984.4h17.4l-8.7 16.2zM739.1 984.6h17.4l-8.7 16.2zM745.9 984.8h17.4l-8.7 16.2zM752.7 985h17.4l-8.7 16.2zM759.5 985.2h17.4l-8.7 16.2zM766.4 985.4h17.4l-8.7 16.2zM773.2 985.7h17.4l-8.7 16.2zM780 985.9h17.4l-8.7 16.2zM786.8 986.1h17.4l-8.7 16.2z" fill="#ff0000"/>
<path d="M113 1202.8a7.75 7.75 0 1 0 15.5 0a7.75 7.75 0 1 0 -15.5 0M119.8 1028.9a7.75 7.75 0 1 0 15.5 0a7.75 7.75 0 1 0 -15.5 0M126.6 892a7.75 7.75 0 1 0 15.5 0a7.75 7.75 0 1 0 -15.5 0M133.4 890.2a7.75 7.75 0 1 0 15.5 0a7.75 7.75 0 1 0 -15.5 0M140.2 889.2a7.75 7.75 0 1 0 15.5 0a7.75 7.75 0 1 0 -15.5 0M147 887a7.75 7.75 0 1 0 15.5 0a7.75 7.75 0 1 0 -15.5 0M153.9 887a7.75 7.75 0 1 0 15.5 0a7.75 7.75 0 1 0 -15.5 0M160.7 885.4a7.75 7.75 0 1 0 15.5 0a7.75 7.75 0 1 0 -15.5 0M167.5 885.2a7.75 7.75 0 1 0 15.5 0a7.75 7.75 0 1 0 -15.5 0M174.3 884.8a7.75 7.75 0 1 0 15.5 0a7.75 7.75 0 1 0 -15.5 0M181.1 885a7.75 7.75 0 1 0 15.5 0a7.75 7.75 0 1 0 -15.5 0M187.9 883.3a7.75 7.75 0 1 0 15.5 0a7.75 7.75 0 1 0 -15.5 0M194.8 883.2a7.75 7.75 0 1 0 15.5 0a7.75 7.75 0 1 0 -15.5 0M201.6 883.8a7.75 7.75 0 1 0 15.5 0a7.75 7.75 0 1 0 -15.5 0M208.4 883.5a7.75 7.75 0 1 0 15.5 0a7.75 7.75 0 1 0 -15.5 0M215.2 883.8a7.75 7.75 0 1 0 15.5 0a7.75 7.75 0 1 0 -15.5 0M222 882.7a7.75 7.75 0 1 0 15.5 0a7.75 7.75 0 1 0 -15.5 0M228.8 882.4a7.75 7.75 0 1 0 15.5 0a7.75 7.75 0 1 0 -15.5 0M235.7 882.9a7.75 7.75 0 1 0 15.5 0a7.75 7.75 0 1 0 -15.5 0M242.5 882.5a7.75 7.75 0 1 0 15.5 0a7.75 7.75 0 1 0 -15.5 0M249.3 882.8a7.75 7.75 0 1 0 15.5 0a7.75 7.75 0 1 0 -15.5 0M256.1 882a7.75 7.75 0 1 0 15.5 0a7.75 7.75 0 1 0 -15.5 0M262.9 882.4a7.75 7.75 0 1 0 15.5 0a7.75 7.75 0 1 0 -15.5 0M269.7 882.1a7.75 7.75 0 1 0 15.5 0a7.75 7.75 0 1 0 -15.5 0M276.6 882.5a7.75 7.75 0 1 0 15.5 0a7.75 7.75 0 1 0 -15.5 0M283.4 881.9a7.75 7.75 0 1 0 15.5 0a7.75 7.75 0 1 0 -15.5 0M290.2 883.1a7.75 7.75 0 1 0 15.5 0a7.75 7.75 0 1 0 -15.5 0M297 882.8a7.75 7.75 0 1 0 15.5 0a7.75 7.75 0 1 0 -15.5 0M303.8 882.8a7.75 7.75 0 1 0 15.5 0a7.75 7.75 0 1 0 -15.5 0M310.6 882.3a7.75 7.75 0 1 0 15.5 0a7.75 7.75 0 1 0 -15.5 0M317.4 882.6a7.75 7.75 0 1 0 15.5 0a7.75 7.75 0 1 0 -15.5 0M324.3 882.2a7.75 7.75 0 1 0 15.5 0a7.75 7.75 0 1 0 -15.5 0M331.1 882.8a7.75 7.75 0 1 0 15.5 0a7.75 7.75 0 1 0 -15.5 0M337.9 881.8a7.75 7.75 0 1 0 15.5 0a7.75 7.75 0 1 0 -15.5 0M344.7 882.7a7.75 7.75 0 1 0 15.5 0a7.75 7.75 0 1 0 -15.5 0M351.5 883.1a7.75 7.75 0 1 0 15.5 0a7.75 7.75 0 1 0 -15.5 0M358.3 881.8a7.75 7.75 0 1 0 15.5 0a7.75 7.75 0 1 0 -15.5 0M365.2 883.1a7.75 7.75 0 1 0 15.5 0a7.75 7.75 0 1 0 -15.5 0M372 881.7a7.75 7.75 0 1 0 15.5 0a7.75 7.75 0 1 0 -15.5 0M378.8 882.7a7.75 7.75 0 1 0 15.5 0a7.75 7.75 0 1 0 -15.5 0M385.6 881.5a7.75 7.75 0 1 0 15.5 0a7.75 7.75 0 1 0 -15.5 0M392.4 882.8a7.75 7.75 0 1 0 15.5 0a7.75 7.75 0 1 0 -15.5 0M399.2 882.9a7.75 7.75 0 1 0 15.5 0a7.75 7.75 0 1 0 -15.5 0M406.1 882a7.75 7.75 0 1 0 15.5 0a7.75 7.75 0 1 0 -15.5 0M412.9 881.8a7.75 7.75 0 1 0 15.5 0a7.75 7.75 0 1 0 -15.5 0M419.7 882.6a7.75 7.75 0 1 0 15.5 0a7.75 7.75 0 1 0 -15.5 0M426.5 881.9a7.75 7.75 0 1 0 15.5 0a7.75 7.75 0 1 0 -15.5 0M433.3 882a7.75 7.75 0 1 0 15.5 0a7.75 7.75 0 1 0 -15.5 0M440.1 882.8a7.75 7.75 0 1 0 15.5 0a7.75 7.75 0 1 0 -15.5 0M447 882.8a7.75 7.75 0 1 0 15.5 0a7.75 7.75 0 1 0 -15.5 0M453.8 882.9a7.75 7.75 0 1 0 15.5 0a7.75 7.75 0 1 0 -15.5 0M460.6 882.7a7.75 7.75 0 1 0 15.5 0a7.75 7.75 0 1 0 -15.5 0M467.4 881.5a7.75 7.75 0 1 0 15.5 0a7.75 7.75 0 1 0 -15.5 0M474.2 881.8a7.75 7.75 0 1 0 15.5 0a7.75 7.75 0 1 0 -15.5 0M481 882a7.75 7.75 0 1 0 15.5 0a7.75 7.75 0 1 0 -15.5 0M487.8 882.3a7.75 7.75 0 1 0 15.5 0a7.75 7.75 0 1 0 -15.5 0M494.7 882.4a7.75 7.75 0 1 0 15.5 0a7.75 7.75 0 1 0 -15.5 0M501.5 881.6a7.75 7.75 0 1 0 15.5 0a7.75 7.75 0 1 0 -15.5 0M508.3 882.3a7.75 7.75 0 1 0 15.5 0a7.75 7.75 0 1 0 -15.5 0M515.1 882.2a7.75 7.75 0 1 0 15.5 0a7.75 7.75 0 1 0 -15.5 0M521.9 881.4a7.75 7.75 0 1 0 15.5 0a7.75 7.75 0 1 0 -15.5 0M528.7 882.2a7.75 7.75 0 1 0 15.5 0a7.75 7.75 0 1 0 -15.5 0M535.6 881.7a7.75 7.75 0 1 0 15.5 0a7.75 7.75 0 1 0 -15.5 0M542.4 882.1a7.75 7.75 0 1 0 15.5 0a7.75 7.75 0 1 0 -15.5 0M549.2 882.3a7.75 7.75 0 1 0 15.5 0a7.75 7.75 0 1 0 -15.5 0M556 881.7a7.75 7.75 0 1 0 15.5 0a7.75 7.75 0 1 0 -15.5 0M562.8 881.8a7.75 7.75 0 1 0 15.5 0a7.75 7.75 0 1 0 -15.5 0M569.6 882.6a7.75 7.75 0 1 0 15.5 0a7.75 7.75 0 1 0 -15.5 0M576.5 881.2a7.75 7.75 0 1 0 15.5 0a7.75 7.75 0 1 0 -15.5 0M583.3 881.6a7.75 7.75 0 1 0 15.5 0a7.75 7.75 0 1 0 -15.5 0M590.1 882.5a7.75 7.75 0 1 0 15.5 0a7.75 7.75 0 1 0 -15.5 0M596.9 881.5a7.75 7.75 0 1 0 15.5 0a7.75 7.75 0 1 0 -15.5 0M603.7 882.2a7.75 7.75 0 1 0 15.5 0a7.75 7.75 0 1 0 -15.5 0M610.5 881a7.75 7.75 0 1 0 15.5 0a7.75 7.75 0 1 0 -15.5 0M617.4 881.4a7.75 7.75 0 1 0 15.5 0a7.75 7.75 0 1 0 -15.5 0M624.2 881.4a7.75 7.75 0 1 0 15.5 0a7.75 7.75 0 1 0 -15.5 0M631 881.5a7.75 7.75 0 1 0 15.5 0a7.75 7.75 0 1 0 -15.5 0M637.8 881.1a7.75 7.75 0 1 0 15.5 0a7.75 7.75 0 1 0 -15.5 0M644.6 881a7.75 7.75 0 1 0 15.5 0a7.75 7.75 0 1 0 -15.5 0M651.4 881.5a7.75 7.75 0 1 0 15.5 0a7.75 7.75 0 1 0 -15.5 0M658.2 881.4a7.75 7.75 0 1 0 15.5 0a7.75 7.75 0 1 0 -15.5 0M665.1 882.4a7.75 7.75 0 1 0 15.5 0a7.75 7.75 0 1 0 -15.5 0M671.9 881.8a7.75 7.75 0 1 0 15.5 0a7.75 7.75 0 1 0 -15.5 0M678.7 881a7.75 7.75 0 1 0 15.5 0a7.75 7.75 0 1 0 -15.5 0M685.5 882.3a7.75 7.75 0 1 0 15.5 0a7.75 7.75 0 1 0 -15.5 0M692.3 881.5a7.75 7.75 0 1 0 15.5 0a7.75 7.75 0 1 0 -15.5 0M699.1 880.9a7.75 7.75 0 1 0 15.5 0a7.75 7.75 0 1 0 -15.5 0M706 881.6a7.75 7.75 0 1 0 15.5 0a7.75 7.75 0 1 0 -15.5 0M712.8 881.3a7.75 7.75 0 1 0 15.5 0a7.75 7.75 0 1 0 -15.5 0M719.6 880.8a7.75 7.75 0 1 0 15.5 0a7.75 7.75 0 1 0 -15.5 0M726.4 881.2a7.75 7.75 0 1 0 15.5 0a7.75 7.75 0 1 0 -15.5 0M733.2 881.8a7.75 7.75 0 1 0 15.5 0a7.75 7.75 0 1 0 -15.5 0M740 881a7.75 7.75 0 1 0 15.5 0a7.75 7.75 0 1 0 -15.5 0M746.9 880.8a7.75 7.75 0 1 0 15.5 0a7.75 7.75 0 1 0 -15.5 0M753.7 881.9a7.75 7.75 0 1 0 15.5 0a7.75 7.75 0 1 0 -15.5 0M760.5 881.1a7.75 7.75 0 1 0 15.5 0a7.75 7.75 0 1 0 -15.5 0M767.3 880.7a7.75 7.75 0 1 0 15.5 0a7.75 7.75 0 1 0 -15.5 0M774.1 881a7.75 7.75 0 1 0 15.5 0a7.75 7.75 0 1 0 -15.5 0M780.9 881.4a7.75 7.75 0 1 0 15.5 0a7.75 7.75 0 1 0 -15.5 0M787.8 881.4a7.75 7.75 0 1 0 15.5 0a7.75 7.75 0 1 0 -15.5 0" fill="none" stroke="#ff0000" stroke-width="1.7"/>
<path d="M112 907.1h17.4l-8.7 16.2zM118.8 929.1h17.4l-8.7 16.2zM125.6 931.8h17.4l-8.7 16.2zM132.5 933.1h17.4l-8.7 16.2zM139.3 934.4h17.4l-8.7 16.2zM146.1 935.4h17.4l-8.7 16.2zM152.9 936.4h17.4l-8.7 16.2zM159.7 937.5h17.4l-8.7 16.2zM166.5 938.6h17.4l-8.7 16.2zM173.4 939.8h17.4l-8.7 16.2zM180.2 940.9h17.4l-8.7 16.2zM187 942.1h17.4l-8.7 16.2zM193.8 943.3h17.4l-8.7 16.2zM200.6 944.4h17.4l-8.7 16.2zM207.4 945.5h17.4l-8.7 16.2zM214.3 946.6h17.4l-8.7 16.2zM221.1 947.6h17.4l-8.7 16.2zM227.9 948.6h17.4l-8.7 16.2zM234.7 949.6h17.4l-8.7 16.2zM241.5 950.6h17.4l-8.7 16.2zM248.3 951.6h17.4l-8.7 16.2zM255.2 952.5h17.4l-8.7 16.2zM262 953.4h17.4l-8.7 16.2zM268.8 954.2h17.4l-8.7 16.2zM275.6 954.9h17.4l-8.7 16.2zM282.4 955.6h17.4l-8.7 16.2zM289.2 956.2h17.4l-8.7 16.2zM296 956.8h17.4l-8.7 16.2zM302.9 957.3h17.4l-8.7 16.2zM309.7 957.9h17.4l-8.7 16.2zM316.5 958.4h17.4l-8.7 16.2zM323.3 958.9h17.4l-8.7 16.2zM330.1 959.4h17.4l-8.7 16.2zM336.9 959.9h17.4l-8.7 16.2zM343.8 960.4h17.4l-8.7 16.2zM350.6 960.9h17.4l-8.7 16.2zM357.4 961.4h17.4l-8.7 16.2zM364.2 962h17.4l-8.7 16.2zM371 962.5h17.4l-8.7 16.2zM377.8 963h17.4l-8.7 16.2zM384.7 963.6h17.4l-8.7 16.2zM391.5 964.1h17.4l-8.7 16.2zM398.3 964.6h17.4l-8.7 16.2zM405.1 965.1h17.4l-8.7 16.2zM411.9 965.6h17.4l-8.7 16.2zM418.7 966.1h17.4l-8.7 16.2zM425.6 966.5h17.4l-8.7 16.2zM432.4 966.9h17.4l-8.7 16.2zM439.2 967.3h17.4l-8.7 16.2zM446 967.6h17.4l-8.7 16.2zM452.8 968h17.4l-8.7 16.2zM459.6 968.3h17.4l-8.7 16.2zM466.4 968.6h17.4l-8.7 16.2zM473.3 968.9h17.4l-8.7 16.2zM480.1 969.2h17.4l-8.7 16.2zM486.9 969.5h17.4l-8.7 16.2zM493.7 969.8h17.4l-8.7 16.2zM500.5 970h17.4l-8.7 16.2zM507.3 970.3h17.4l-8.7 16.2zM514.2 970.5h17.4l-8.7 16.2zM521 970.8h17.4l-8.7 16.2zM527.8 971.1h17.4l-8.7 16.2zM534.6 971.3h17.4l-8.7 16.2zM541.4 971.5h17.4l-8.7 16.2zM548.2 971.8h17.4l-8.7 16.2zM555.1 972h17.4l-8.7 16.2zM561.9 972.3h17.4l-8.7 16.2zM568.7 972.5h17.4l-8.7 16.2zM575.5 972.8h17.4l-8.7 16.2zM582.3 973.1h17.4l-8.7 16.2zM589.1 973.3h17.4l-8.7 16.2zM596 973.6h17.4l-8.7 16.2zM602.8 973.9h17.4l-8.7 16.2zM609.6 974.2h17.4l-8.7 16.2zM616.4 974.5h17.4l-8.7 16.2zM623.2 974.8h17.4l-8.7 16.2zM630 975.1h17.4l-8.7 16.2zM636.8 975.4h17.4l-8.7 16.2zM643.7 975.8h17.4l-8.7 16.2zM650.5 976.1h17.4l-8.7 16.2zM657.3 976.5h17.4l-8.7 16.2zM664.1 976.8h17.4l-8.7 16.2zM670.9 977.2h17.4l-8.7 16.2zM677.7 977.5h17.4l-8.7 16.2zM684.6 977.9h17.4l-8.7 16.2zM691.4 978.3h17.4l-8.7 16.2zM698.2 978.6h17.4l-8.7 16.2zM705 979h17.4l-8.7 16.2zM711.8 979.4h17.4l-8.7 16.2zM718.6 979.8h17.4l-8.7 16.2zM725.5 980.2h17.4l-8.7 16.2zM732.3 980.6h17.4l-8.7 16.2zM739.1 981h17.4l-8.7 16.2zM745.9 981.4h17.4l-8.7 16.2zM752.7 981.8h17.4l-8.7 16.2zM759.5 982.2h17.4l-8.7 16.2zM766.4 982.6h17.4l-8.7 16.2zM773.2 983.1h17.4l-8.7 16.2zM780 983.5h17.4l-8.7 16.2zM786.8 983.9h17.4l-8.7 16.2z" fill="#ff6600"/>
<path d="M113 1131.6a7.75 7.75 0 1 0 15.5 0a7.75 7.75 0 1 0 -15.5 0M119.8 1020.6a7.75 7.75 0 1 0 15.5 0a7.75 7.75 0 1 0 -15.5 0M126.6 908.9a7.75 7.75 0 1 0 15.5 0a7.75 7.75 0 1 0 -15.5 0M133.4 905.9a7.75 7.75 0 1 0 15.5 0a7.75 7.75 0 1 0 -15.5 0M140.2 902.6a7.75 7.75 0 1 0 15.5 0a7.75 7.75 0 1 0 -15.5 0M147 901a7.75 7.75 0 1 0 15.5 0a7.75 7.75 0 1 0 -15.5 0M153.9 899a7.75 7.75 0 1 0 15.5 0a7.75 7.75 0 1 0 -15.5 0M160.7 898.2a7.75 7.75 0 1 0 15.5 0a7.75 7.75 0 1 0 -15.5 0M167.5 896.1a7.75 7.75 0 1 0 15.5 0a7.75 7.75 0 1 0 -15.5 0M174.3 895.9a7.75 7.75 0 1 0 15.5 0a7.75 7.75 0 1 0 -15.5 0M181.1 894.3a7.75 7.75 0 1 0 15.5 0a7.75 7.75 0 1 0 -15.5 0M187.9 893.2a7.75 7.75 0 1 0 15.5 0a7.75 7.75 0 1 0 -15.5 0M194.8 893.6a7.75 7.75 0 1 0 15.5 0a7.75 7.75 0 1 0 -15.5 0M201.6 892.2a7.75 7.75 0 1 0 15.5 0a7.75 7.75 0 1 0 -15.5 0M208.4 891.9a7.75 7.75 0 1 0 15.5 0a7.75 7.75 0 1 0 -15.5 0M215.2 891.1a7.75 7.75 0 1 0 15.5 0a7.75 7.75 0 1 0 -15.5 0M222 890.9a7.75 7.75 0 1 0 15.5 0a7.75 7.75 0 1 0 -15.5 0M228.8 891.3a7.75 7.75 0 1 0 15.5 0a7.75 7.75 0 1 0 -15.5 0M235.7 890.4a7.75 7.75 0 1 0 15.5 0a7.75 7.75 0 1 0 -15.5 0M242.5 890a7.75 7.75 0 1 0 15.5 0a7.75 7.75 0 1 0 -15.5 0M249.3 890.3a7.75 7.75 0 1 0 15.5 0a7.75 7.75 0 1 0 -15.5 0M256.1 890.3a7.75 7.75 0 1 0 15.5 0a7.75 7.75 0 1 0 -15.5 0M262.9 889.9a7.75 7.75 0 1 0 15.5 0a7.75 7.75 0 1 0 -15.5 0M269.7 889a7.75 7.75 0 1 0 15.5 0a7.75 7.75 0 1 0 -15.5 0M276.6 889.8a7.75 7.75 0 1 0 15.5 0a7.75 7.75 0 1 0 -15.5 0M283.4 889a7.75 7.75 0 1 0 15.5 0a7.75 7.75 0 1 0 -15.5 0M290.2 889a7.75 7.75 0 1 0 15.5 0a7.75 7.75 0 1 0 -15.5 0M297 889.8a7.75 7.75 0 1 0 15.5 0a7.75 7.75 0 1 0 -15.5 0M303.8 888.9a7.75 7.75 0 1 0 15.5 0a7.75 7.75 0 1 0 -15.5 0M310.6 889.1a7.75 7.75 0 1 0 15.5 0a7.75 7.75 0 1 0 -15.5 0M317.4 888.1a7.75 7.75 0 1 0 15.5 0a7.75 7.75 0 1 0 -15.5 0M324.3 889.3a7.75 7.75 0 1 0 15.5 0a7.75 7.75 0 1 0 -15.5 0M331.1 888.7a7.75 7.75 0 1 0 15.5 0a7.75 7.75 0 1 0 -15.5 0M337.9 888.8a7.75 7.75 0 1 0 15.5 0a7.75 7.75 0 1 0 -15.5 0M344.7 888.1a7.75 7.75 0 1 0 15.5 0a7.75 7.75 0 1 0 -15.5 0M351.5 888.6a7.75 7.75 0 1 0 15.5 0a7.75 7.75 0 1 0 -15.5 0M358.3 887.9a7.75 7.75 0 1 0 15.5 0a7.75 7.75 0 1 0 -15.5 0M365.2 889.1a7.75 7.75 0 1 0 15.5 0a7.75 7.75 0 1 0 -15.5 0M372 888.8a7.75 7.75 0 1 0 15.5 0a7.75 7.75 0 1 0 -15.5 0M378.8 888.6a7.75 7.75 0 1 0 15.5 0a7.75 7.75 0 1 0 -15.5 0M385.6 888.6a7.75 7.75 0 1 0 15.5 0a7.75 7.75 0 1 0 -15.5 0M392.4 887.7a7.75 7.75 0 1 0 15.5 0a7.75 7.75 0 1 0 -15.5 0M399.2 888a7.75 7.75 0 1 0 15.5 0a7.75 7.75 0 1 0 -15.5 0M406.1 887.7a7.75 7.75 0 1 0 15.5 0a7.75 7.75 0 1 0 -15.5 0M412.9 888a7.75 7.75 0 1 0 15.5 0a7.75 7.75 0 1 0 -15.5 0M419.7 888.9a7.75 7.75 0 1 0 15.5 0a7.75 7.75 0 1 0 -15.5 0M426.5 887.7a7.75 7.75 0 1 0 15.5 0a7.75 7.75 0 1 0 -15.5 0M433.3 888.5a7.75 7.75 0 1 0 15.5 0a7.75 7.75 0 1 0 -15.5 0M440.1 888.8a7.75 7.75 0 1 0 15.5 0a7.75 7.75 0 1 0 -15.5 0M447 887.2a7.75 7.75 0 1 0 15.5 0a7.75 7.75 0 1 0 -15.5 0M453.8 888.4a7.75 7.75 0 1 0 15.5 0a7.75 7.75 0 1 0 -15.5 0M460.6 888.6a7.75 7.75 0 1 0 15.5 0a7.75 7.75 0 1 0 -15.5 0M467.4 888a7.75 7.75 0 1 0 15.5 0a7.75 7.75 0 1 0 -15.5 0M474.2 887.1a7.75 7.75 0 1 0 15.5 0a7.75 7.75 0 1 0 -15.5 0M481 888.1a7.75 7.75 0 1 0 15.5 0a7.75 7.75 0 1 0 -15.5 0M487.8 887.3a7.75 7.75 0 1 0 15.5 0a7.75 7.75 0 1 0 -15.5 0M494.7 888.4a7.75 7.75 0 1 0 15.5 0a7.75 7.75 0 1 0 -15.5 0M501.5 887.6a7.75 7.75 0 1 0 15.5 0a7.75 7.75 0 1 0 -15.5 0M508.3 887.1a7.75 7.75 0 1 0 15.5 0a7.75 7.75 0 1 0 -15.5 0M515.1 886.8a7.75 7.75 0 1 0 15.5 0a7.75 7.75 0 1 0 -15.5 0M521.9 887.8a7.75 7.75 0 1 0 15.5 0a7.75 7.75 0 1 0 -15.5 0M528.7 888.1a7.75 7.75 0 1 0 15.5 0a7.75 7.75 0 1 0 -15.5 0M535.6 887.9a7.75 7.75 0 1 0 15.5 0a7.75 7.75 0 1 0 -15.5 0M542.4 887.7a7.75 7.75 0 1 0 15.5 0a7.75 7.75 0 1 0 -15.5 0M549.2 886.7a7.75 7.75 0 1 0 15.5 0a7.75 7.75 0 1 0 -15.5 0M556 887.1a7.75 7.75 0 1 0 15.5 0a7.75 7.75 0 1 0 -15.5 0M562.8 887.2a7.75 7.75 0 1 0 15.5 0a7.75 7.75 0 1 0 -15.5 0M569.6 886.9a7.75 7.75 0 1 0 15.5 0a7.75 7.75 0 1 0 -15.5 0M576.5 886.8a7.75 7.75 0 1 0 15.5 0a7.75 7.75 0 1 0 -15.5 0M583.3 887a7.75 7.75 0 1 0 15.5 0a7.75 7.75 0 1 0 -15.5 0M590.1 887.7a7.75 7.75 0 1 0 15.5 0a7.75 7.75 0 1 0 -15.5 0M596.9 887.6a7.75 7.75 0 1 0 15.5 0a7.75 7.75 0 1 0 -15.5 0M603.7 887a7.75 7.75 0 1 0 15.5 0a7.75 7.75 0 1 0 -15.5 0M610.5 886.6a7.75 7.75 0 1 0 15.5 0a7.75 7.75 0 1 0 -15.5 0M617.4 886.6a7.75 7.75 0 1 0 15.5 0a7.75 7.75 0 1 0 -15.5 0M624.2 887.1a7.75 7.75 0 1 0 15.5 0a7.75 7.75 0 1 0 -15.5 0M631 887.8a7.75 7.75 0 1 0 15.5 0a7.75 7.75 0 1 0 -15.5 0M637.8 886.7a7.75 7.75 0 1 0 15.5 0a7.75 7.75 0 1 0 -15.5 0M644.6 886.3a7.75 7.75 0 1 0 15.5 0a7.75 7.75 0 1 0 -15.5 0M651.4 886.9a7.75 7.75 0 1 0 15.5 0a7.75 7.75 0 1 0 -15.5 0M658.2 887.5a7.75 7.75 0 1 0 15.5 0a7.75 7.75 0 1 0 -15.5 0M665.1 886.5a7.75 7.75 0 1 0 15.5 0a7.75 7.75 0 1 0 -15.5 0M671.9 886.9a7.75 7.75 0 1 0 15.5 0a7.75 7.75 0 1 0 -15.5 0M678.7 886.7a7.75 7.75 0 1 0 15.5 0a7.75 7.75 0 1 0 -15.5 0M685.5 887.3a7.75 7.75 0 1 0 15.5 0a7.75 7.75 0 1 0 -15.5 0M692.3 887a7.75 7.75 0 1 0 15.5 0a7.75 7.75 0 1 0 -15.5 0M699.1 886.1a7.75 7.75 0 1 0 15.5 0a7.75 7.75 0 1 0 -15.5 0M706 886.3a7.75 7.75 0 1 0 15.5 0a7.75 7.75 0 1 0 -15.5 0M712.8 886.3a7.75 7.75 0 1 0 15.5 0a7.75 7.75 0 1 0 -15.5 0M719.6 886.2a7.75 7.75 0 1 0 15.5 0a7.75 7.75 0 1 0 -15.5 0M726.4 885.9a7.75 7.75 0 1 0 15.5 0a7.75 7.75 0 1 0 -15.5 0M733.2 886.9a7.75 7.75 0 1 0 15.5 0a7.75 7.75 0 1 0 -15.5 0M740 886.2a7.75 7.75 0 1 0 15.5 0a7.75 7.75 0 1 0 -15.5 0M746.9 886.5a7.75 7.75 0 1 0 15.5 0a7.75 7.75 0 1 0 -15.5 0M753.7 887.2a7.75 7.75 0 1 0 15.5 0a7.75 7.75 0 1 0 -15.5 0M760.5 885.8a7.75 7.75 0 1 0 15.5 0a7.75 7.75 0 1 0 -15.5 0M767.3 886.9a7.75 7.75 0 1 0 15.5 0a7.75 7.75 0 1 0 -15.5 0M774.1 886a7.75 7.75 0 1 0 15.5 0a7.75 7.75 0 1 0 -15.5 0M780.9 885.7a7.75 7.75 0 1 0 15.5 0a7.75 7.75 0 1 0 -15.5 0M787.8 886.7a7.75 7.75 0 1 0 15.5 0a7.75 7.75 0 1 0 -15.5 0" fill="none" stroke="#ff6600" stroke-width="1.7"/>
<path d="M112 906.1h17.4l-8.7 16.2zM118.8 924.9h17.4l-8.7 16.2zM125.6 927.7h17.4l-8.7 16.2zM132.5 929.5h17.4l-8.7 16.2zM139.3 930.7h17.4l-8.7 16.2zM146.1 931.6h17.4l-8.7 16.2zM152.9 932.5h17.4l-8.7 16.2zM159.7 933.8h17.4l-8.7 16.2zM166.5 935.2h17.4l-8.7 16.2zM173.4 936.5h17.4l-8.7 16.2zM180.2 937.8h17.4l-8.7 16.2zM187 939h17.4l-8.7 16.2zM193.8 940.3h17.4l-8.7 16.2zM200.6 941.5h17.4l-8.7 16.2zM207.4 942.6h17.4l-8.7 16.2zM214.3 943.8h17.4l-8.7 16.2zM221.1 945h17.4l-8.7 16.2zM227.9 946.1h17.4l-8.7 16.2zM234.7 947.3h17.4l-8.7 16.2zM241.5 948.4h17.4l-8.7 16.2zM248.3 949.5h17.4l-8.7 16.2zM255.2 950.5h17.4l-8.7 16.2zM262 951.6h17.4l-8.7 16.2zM268.8 952.5h17.4l-8.7 16.2zM275.6 953.4h17.4l-8.7 16.2zM282.4 954.2h17.4l-8.7 16.2zM289.2 955h17.4l-8.7 16.2zM296 955.8h17.4l-8.7 16.2zM302.9 956.5h17.4l-8.7 16.2zM309.7 957.2h17.4l-8.7 16.2zM316.5 957.9h17.4l-8.7 16.2zM323.3 958.6h17.4l-8.7 16.2zM330.1 959.2h17.4l-8.7 16.2zM336.9 959.9h17.4l-8.7 16.2zM343.8 960.5h17.4l-8.7 16.2zM350.6 961.1h17.4l-8.7 16.2zM357.4 961.8h17.4l-8.7 16.2zM364.2 962.4h17.4l-8.7 16.2zM371 963h17.4l-8.7 16.2zM377.8 963.6h17.4l-8.7 16.2zM384.7 964.2h17.4l-8.7 16.2zM391.5 964.8h17.4l-8.7 16.2zM398.3 965.4h17.4l-8.7 16.2zM405.1 965.9h17.4l-8.7 16.2zM411.9 966.5h17.4l-8.7 16.2zM418.7 967h17.4l-8.7 16.2zM425.6 967.4h17.4l-8.7 16.2zM432.4 967.9h17.4l-8.7 16.2zM439.2 968.3h17.4l-8.7 16.2zM446 968.8h17.4l-8.7 16.2zM452.8 969.2h17.4l-8.7 16.2zM459.6 969.6h17.4l-8.7 16.2zM466.4 970h17.4l-8.7 16.2zM473.3 970.3h17.4l-8.7 16.2zM480.1 970.7h17.4l-8.7 16.2zM486.9 971.1h17.4l-8.7 16.2zM493.7 971.4h17.4l-8.7 16.2zM500.5 971.8h17.4l-8.7 16.2zM507.3 972.1h17.4l-8.7 16.2zM514.2 972.5h17.4l-8.7 16.2zM521 972.8h17.4l-8.7 16.2zM527.8 973.1h17.4l-8.7 16.2zM534.6 973.5h17.4l-8.7 16.2zM541.4 973.8h17.4l-8.7 16.2zM548.2 974.1h17.4l-8.7 16.2zM555.1 974.4h17.4l-8.7 16.2zM561.9 974.7h17.4l-8.7 16.2zM568.7 975h17.4l-8.7 16.2zM575.5 975.3h17.4l-8.7 16.2zM582.3 975.7h17.4l-8.7 16.2zM589.1 976h17.4l-8.7 16.2zM596 976.3h17.4l-8.7 16.2zM602.8 976.6h17.4l-8.7 16.2zM609.6 976.9h17.4l-8.7 16.2zM616.4 977.2h17.4l-8.7 16.2zM623.2 977.6h17.4l-8.7 16.2zM630 977.9h17.4l-8.7 16.2zM636.8 978.2h17.4l-8.7 16.2zM643.7 978.6h17.4l-8.7 16.2zM650.5 978.9h17.4l-8.7 16.2zM657.3 979.2h17.4l-8.7 16.2zM664.1 979.6h17.4l-8.7 16.2zM670.9 979.9h17.4l-8.7 16.2zM677.7 980.2h17.4l-8.7 16.2zM684.6 980.6h17.4l-8.7 16.2zM691.4 980.9h17.4l-8.7 16.2zM698.2 981.2h17.4l-8.7 16.2zM705 981.5h17.4l-8.7 16.2zM711.8 981.9h17.4l-8.7 16.2zM718.6 982.2h17.4l-8.7 16.2zM725.5 982.5h17.4l-8.7 16.2zM732.3 982.8h17.4l-8.7 16.2zM739.1 983.2h17.4l-8.7 16.2zM745.9 983.5h17.4l-8.7 16.2zM752.7 983.8h17.4l-8.7 16.2zM759.5 984.1h17.4l-8.7 16.2zM766.4 984.4h17.4l-8.7 16.2zM773.2 984.8h17.4l-8.7 16.2zM780 985.1h17.4l-8.7 16.2zM786.8 985.4h17.4l-8.7 16.2z" fill="#009933"/>
<path d="M113 1091.2a7.75 7.75 0 1 0 15.5 0a7.75 7.75 0 1 0 -15.5 0M119.8 1005.7a7.75 7.75 0 1 0 15.5 0a7.75 7.75 0 1 0 -15.5 0M126.6 911.2a7.75 7.75 0 1 0 15.5 0a7.75 7.75 0 1 0 -15.5 0M133.4 908.4a7.75 7.75 0 1 0 15.5 0a7.75 7.75 0 1 0 -15.5 0M140.2 906.1a7.75 7.75 0 1 0 15.5 0a7.75 7.75 0 1 0 -15.5 0M147 903.6a7.75 7.75 0 1 0 15.5 0a7.75 7.75 0 1 0 -15.5 0M153.9 902.9a7.75 7.75 0 1 0 15.5 0a7.75 7.75 0 1 0 -15.5 0M160.7 900.5a7.75 7.75 0 1 0 15.5 0a7.75 7.75 0 1 0 -15.5 0M167.5 899.9a7.75 7.75 0 1 0 15.5 0a7.75 7.75 0 1 0 -15.5 0M174.3 898.7a7.75 7.75 0 1 0 15.5 0a7.75 7.75 0 1 0 -15.5 0M181.1 898.2a7.75 7.75 0 1 0 15.5 0a7.75 7.75 0 1 0 -15.5 0M187.9 897.8a7.75 7.75 0 1 0 15.5 0a7.75 7.75 0 1 0 -15.5 0M194.8 896.7a7.75 7.75 0 1 0 15.5 0a7.75 7.75 0 1 0 -15.5 0M201.6 896.2a7.75 7.75 0 1 0 15.5 0a7.75 7.75 0 1 0 -15.5 0M208.4 894.9a7.75 7.75 0 1 0 15.5 0a7.75 7.75 0 1 0 -15.5 0M215.2 895a7.75 7.75 0 1 0 15.5 0a7.75 7.75 0 1 0 -15.5 0M222 894.9a7.75 7.75 0 1 0 15.5 0a7.75 7.75 0 1 0 -15.5 0M228.8 893.8a7.75 7.75 0 1 0 15.5 0a7.75 7.75 0 1 0 -15.5 0M235.7 893.2a7.75 7.75 0 1 0 15.5 0a7.75 7.75 0 1 0 -15.5 0M242.5 894.1a7.75 7.75 0 1 0 15.5 0a7.75 7.75 0 1 0 -15.5 0M249.3 894.2a7.75 7.75 0 1 0 15.5 0a7.75 7.75 0 1 0 -15.5 0M256.1 892.8a7.75 7.75 0 1 0 15.5 0a7.75 7.75 0 1 0 -15.5 0M262.9 892.8a7.75 7.75 0 1 0 15.5 0a7.75 7.75 0 1 0 -15.5 0M269.7 892.4a7.75 7.75 0 1 0 15.5 0a7.75 7.75 0 1 0 -15.5 0M276.6 892.2a7.75 7.75 0 1 0 15.5 0a7.75 7.75 0 1 0 -15.5 0M283.4 892.9a7.75 7.75 0 1 0 15.5 0a7.75 7.75 0 1 0 -15.5 0M290.2 893.2a7.75 7.75 0 1 0 15.5 0a7.75 7.75 0 1 0 -15.5 0M297 893.2a7.75 7.75 0 1 0 15.5 0a7.75 7.75 0 1 0 -15.5 0M303.8 892.4a7.75 7.75 0 1 0 15.5 0a7.75 7.75 0 1 0 -15.5 0M310.6 892.3a7.75 7.75 0 1 0 15.5 0a7.75 7.75 0 1 0 -15.5 0M317.4 893a7.75 7.75 0 1 0 15.5 0a7.75 7.75 0 1 0 -15.5 0M324.3 892.3a7.75 7.75 0 1 0 15.5 0a7.75 7.75 0 1 0 -15.5 0M331.1 892.4a7.75 7.75 0 1 0 15.5 0a7.75 7.75 0 1 0 -15.5 0M337.9 892.6a7.75 7.75 0 1 0 15.5 0a7.75 7.75 0 1 0 -15.5 0M344.7 891.7a7.75 7.75 0 1 0 15.5 0a7.75 7.75 0 1 0 -15.5 0M351.5 892.5a7.75 7.75 0 1 0 15.5 0a7.75 7.75 0 1 0 -15.5 0M358.3 892.6a7.75 7.75 0 1 0 15.5 0a7.75 7.75 0 1 0 -15.5 0M365.2 891.4a7.75 7.75 0 1 0 15.5 0a7.75 7.75 0 1 0 -15.5 0M372 892.4a7.75 7.75 0 1 0 15.5 0a7.75 7.75 0 1 0 -15.5 0M378.8 890.9a7.75 7.75 0 1 0 15.5 0a7.75 7.75 0 1 0 -15.5 0M385.6 891.9a7.75 7.75 0 1 0 15.5 0a7.75 7.75 0 1 0 -15.5 0M392.4 891.1a7.75 7.75 0 1 0 15.5 0a7.75 7.75 0 1 0 -15.5 0M399.2 890.7a7.75 7.75 0 1 0 15.5 0a7.75 7.75 0 1 0 -15.5 0M406.1 891.2a7.75 7.75 0 1 0 15.5 0a7.75 7.75 0 1 0 -15.5 0M412.9 891.6a7.75 7.75 0 1 0 15.5 0a7.75 7.75 0 1 0 -15.5 0M419.7 891.7a7.75 7.75 0 1 0 15.5 0a7.75 7.75 0 1 0 -15.5 0M426.5 890.8a7.75 7.75 0 1 0 15.5 0a7.75 7.75 0 1 0 -15.5 0M433.3 891.4a7.75 7.75 0 1 0 15.5 0a7.75 7.75 0 1 0 -15.5 0M440.1 891.9a7.75 7.75 0 1 0 15.5 0a7.75 7.75 0 1 0 -15.5 0M447 890.4a7.75 7.75 0 1 0 15.5 0a7.75 7.75 0 1 0 -15.5 0M453.8 890.6a7.75 7.75 0 1 0 15.5 0a7.75 7.75 0 1 0 -15.5 0M460.6 891.2a7.75 7.75 0 1 0 15.5 0a7.75 7.75 0 1 0 -15.5 0M467.4 891.1a7.75 7.75 0 1 0 15.5 0a7.75 7.75 0 1 0 -15.5 0M474.2 890.6a7.75 7.75 0 1 0 15.5 0a7.75 7.75 0 1 0 -15.5 0M481 891.5a7.75 7.75 0 1 0 15.5 0a7.75 7.75 0 1 0 -15.5 0M487.8 890.1a7.75 7.75 0 1 0 15.5 0a7.75 7.75 0 1 0 -15.5 0M494.7 890.2a7.75 7.75 0 1 0 15.5 0a7.75 7.75 0 1 0 -15.5 0M501.5 891.4a7.75 7.75 0 1 0 15.5 0a7.75 7.75 0 1 0 -15.5 0M508.3 889.8a7.75 7.75 0 1 0 15.5 0a7.75 7.75 0 1 0 -15.5 0M515.1 890.7a7.75 7.75 0 1 0 15.5 0a7.75 7.75 0 1 0 -15.5 0M521.9 890.9a7.75 7.75 0 1 0 15.5 0a7.75 7.75 0 1 0 -15.5 0M528.7 889.7a7.75 7.75 0 1 0 15.5 0a7.75 7.75 0 1 0 -15.5 0M535.6 890a7.75 7.75 0 1 0 15.5 0a7.75 7.75 0 1 0 -15.5 0M542.4 890.8a7.75 7.75 0 1 0 15.5 0a7.75 7.75 0 1 0 -15.5 0M549.2 891a7.75 7.75 0 1 0 15.5 0a7.75 7.75 0 1 0 -15.5 0M556 890.5a7.75 7.75 0 1 0 15.5 0a7.75 7.75 0 1 0 -15.5 0M562.8 890.2a7.75 7.75 0 1 0 15.5 0a7.75 7.75 0 1 0 -15.5 0M569.6 890.3a7.75 7.75 0 1 0 15.5 0a7.75 7.75 0 1 0 -15.5 0M576.5 889.9a7.75 7.75 0 1 0 15.5 0a7.75 7.75 0 1 0 -15.5 0M583.3 889.4a7.75 7.75 0 1 0 15.5 0a7.75 7.75 0 1 0 -15.5 0M590.1 890.4a7.75 7.75 0 1 0 15.5 0a7.75 7.75 0 1 0 -15.5 0M596.9 889.8a7.75 7.75 0 1 0 15.5 0a7.75 7.75 0 1 0 -15.5 0M603.7 889.8a7.75 7.75 0 1 0 15.5 0a7.75 7.75 0 1 0 -15.5 0M610.5 889.6a7.75 7.75 0 1 0 15.5 0a7.75 7.75 0 1 0 -15.5 0M617.4 889.4a7.75 7.75 0 1 0 15.5 0a7.75 7.75 0 1 0 -15.5 0M624.2 889.4a7.75 7.75 0 1 0 15.5 0a7.75 7.75 0 1 0 -15.5 0M631 889.9a7.75 7.75 0 1 0 15.5 0a7.75 7.75 0 1 0 -15.5 0M637.8 888.9a7.75 7.75 0 1 0 15.5 0a7.75 7.75 0 1 0 -15.5 0M644.6 888.6a7.75 7.75 0 1 0 15.5 0a7.75 7.75 0 1 0 -15.5 0M651.4 888.8a7.75 7.75 0 1 0 15.5 0a7.75 7.75 0 1 0 -15.5 0M658.2 889.2a7.75 7.75 0 1 0 15.5 0a7.75 7.75 0 1 0 -15.5 0M665.1 888.5a7.75 7.75 0 1 0 15.5 0a7.75 7.75 0 1 0 -15.5 0M671.9 888.7a7.75 7.75 0 1 0 15.5 0a7.75 7.75 0 1 0 -15.5 0M678.7 889.5a7.75 7.75 0 1 0 15.5 0a7.75 7.75 0 1 0 -15.5 0M685.5 888.4a7.75 7.75 0 1 0 15.5 0a7.75 7.75 0 1 0 -15.5 0M692.3 889.7a7.75 7.75 0 1 0 15.5 0a7.75 7.75 0 1 0 -15.5 0M699.1 889.4a7.75 7.75 0 1 0 15.5 0a7.75 7.75 0 1 0 -15.5 0M706 888.3a7.75 7.75 0 1 0 15.5 0a7.75 7.75 0 1 0 -15.5 0M712.8 889.3a7.75 7.75 0 1 0 15.5 0a7.75 7.75 0 1 0 -15.5 0M719.6 888.7a7.75 7.75 0 1 0 15.5 0a7.75 7.75 0 1 0 -15.5 0M726.4 888.5a7.75 7.75 0 1 0 15.5 0a7.75 7.75 0 1 0 -15.5 0M733.2 888a7.75 7.75 0 1 0 15.5 0a7.75 7.75 0 1 0 -15.5 0M740 888.7a7.75 7.75 0 1 0 15.5 0a7.75 7.75 0 1 0 -15.5 0M746.9 888a7.75 7.75 0 1 0 15.5 0a7.75 7.75 0 1 0 -15.5 0M753.7 889.3a7.75 7.75 0 1 0 15.5 0a7.75 7.75 0 1 0 -15.5 0M760.5 887.7a7.75 7.75 0 1 0 15.5 0a7.75 7.75 0 1 0 -15.5 0M767.3 889.2a7.75 7.75 0 1 0 15.5 0a7.75 7.75 0 1 0 -15.5 0M774.1 887.8a7.75 7.75 0 1 0 15.5 0a7.75 7.75 0 1 0 -15.5 0M780.9 888.1a7.75 7.75 0 1 0 15.5 0a7.75 7.75 0 1 0 -15.5 0M787.8 888.5a7.75 7.75 0 1 0 15.5 0a7.75 7.75 0 1 0 -15.5 0" fill="none" stroke="#009933" stroke-width="1.7"/>
<path d="M112 925.3h17.4l-8.7 16.2zM118.8 960.9h17.4l-8.7 16.2zM125.6 964.7h17.4l-8.7 16.2zM132.5 967.2h17.4l-8.7 16.2zM139.3 968.8h17.4l-8.7 16.2zM146.1 969.9h17.4l-8.7 16.2zM152.9 970.8h17.4l-8.7 16.2zM159.7 972h17.4l-8.7 16.2zM166.5 973.1h17.4l-8.7 16.2zM173.4 974.1h17.4l-8.7 16.2zM180.2 974.9h17.4l-8.7 16.2zM187 975.8h17.4l-8.7 16.2zM193.8 976.5h17.4l-8.7 16.2zM200.6 977.3h17.4l-8.7 16.2zM207.4 978h17.4l-8.7 16.2zM214.3 978.7h17.4l-8.7 16.2zM221.1 979.4h17.4l-8.7 16.2zM227.9 980.1h17.4l-8.7 16.2zM234.7 980.8h17.4l-8.7 16.2zM241.5 981.4h17.4l-8.7 16.2zM248.3 982.1h17.4l-8.7 16.2zM255.2 982.7h17.4l-8.7 16.2zM262 983.3h17.4l-8.7 16.2zM268.8 983.9h17.4l-8.7 16.2zM275.6 984.4h17.4l-8.7 16.2zM282.4 984.9h17.4l-8.7 16.2zM289.2 985.5h17.4l-8.7 16.2zM296 986h17.4l-8.7 16.2zM302.9 986.5h17.4l-8.7 16.2zM309.7 987h17.4l-8.7 16.2zM316.5 987.4h17.4l-8.7 16.2zM323.3 987.9h17.4l-8.7 16.2zM330.1 988.4h17.4l-8.7 16.2zM336.9 988.8h17.4l-8.7 16.2zM343.8 989.3h17.4l-8.7 16.2zM350.6 989.7h17.4l-8.7 16.2zM357.4 990.2h17.4l-8.7 16.2zM364.2 990.6h17.4l-8.7 16.2zM371 991h17.4l-8.7 16.2zM377.8 991.5h17.4l-8.7 16.2zM384.7 991.9h17.4l-8.7 16.2zM391.5 992.3h17.4l-8.7 16.2zM398.3 992.7h17.4l-8.7 16.2zM405.1 993.1h17.4l-8.7 16.2zM411.9 993.5h17.4l-8.7 16.2zM418.7 993.9h17.4l-8.7 16.2zM425.6 994.3h17.4l-8.7 16.2zM432.4 994.7h17.4l-8.7 16.2zM439.2 995.1h17.4l-8.7 16.2zM446 995.6h17.4l-8.7 16.2zM452.8 995.9h17.4l-8.7 16.2zM459.6 996.3h17.4l-8.7 16.2zM466.4 996.7h17.4l-8.7 16.2zM473.3 997.1h17.4l-8.7 16.2zM480.1 997.5h17.4l-8.7 16.2zM486.9 997.8h17.4l-8.7 16.2zM493.7 998.2h17.4l-8.7 16.2zM500.5 998.6h17.4l-8.7 16.2zM507.3 998.9h17.4l-8.7 16.2zM514.2 999.3h17.4l-8.7 16.2zM521 999.7h17.4l-8.7 16.2zM527.8 1000h17.4l-8.7 16.2zM534.6 1000.4h17.4l-8.7 16.2zM541.4 1000.7h17.4l-8.7 16.2zM548.2 1001.1h17.4l-8.7 16.2zM555.1 1001.4h17.4l-8.7 16.2zM561.9 1001.8h17.4l-8.7 16.2zM568.7 1002.2h17.4l-8.7 16.2zM575.5 1002.5h17.4l-8.7 16.2zM582.3 1002.9h17.4l-8.7 16.2zM589.1 1003.3h17.4l-8.7 16.2zM596 1003.6h17.4l-8.7 16.2zM602.8 1004h17.4l-8.7 16.2zM609.6 1004.4h17.4l-8.7 16.2zM616.4 1004.8h17.4l-8.7 16.2zM623.2 1005.2h17.4l-8.7 16.2zM630 1005.6h17.4l-8.7 16.2zM636.8 1006h17.4l-8.7 16.2zM643.7 1006.3h17.4l-8.7 16.2zM650.5 1006.7h17.4l-8.7 16.2zM657.3 1007.1h17.4l-8.7 16.2zM664.1 1007.5h17.4l-8.7 16.2zM670.9 1007.9h17.4l-8.7 16.2zM677.7 1008.3h17.4l-8.7 16.2zM684.6 1008.7h17.4l-8.7 16.2zM691.4 1009.1h17.4l-8.7 16.2zM698.2 1009.5h17.4l-8.7 16.2zM705 1009.9h17.4l-8.7 16.2zM711.8 1010.3h17.4l-8.7 16.2zM718.6 1010.8h17.4l-8.7 16.2zM725.5 1011.2h17.4l-8.7 16.2zM732.3 1011.6h17.4l-8.7 16.2zM739.1 1012h17.4l-8.7 16.2zM745.9 1012.4h17.4l-8.7 16.2zM752.7 1012.8h17.4l-8.7 16.2zM759.5 1013.2h17.4l-8.7 16.2zM766.4 1013.6h17.4l-8.7 16.2zM773.2 1014.1h17.4l-8.7 16.2zM780 1014.5h17.4l-8.7 16.2zM786.8 1014.9h17.4l-8.7 16.2z" fill="#000000"/>
<path d="M113 1221.4a7.75 7.75 0 1 0 15.5 0a7.75 7.75 0 1 0 -15.5 0M119.8 1042.8a7.75 7.75 0 1 0 15.5 0a7.75 7.75 0 1 0 -15.5 0M126.6 894.5a7.75 7.75 0 1 0 15.5 0a7.75 7.75 0 1 0 -15.5 0M133.4 891.5a7.75 7.75 0 1 0 15.5 0a7.75 7.75 0 1 0 -15.5 0M140.2 889.1a7.75 7.75 0 1 0 15.5 0a7.75 7.75 0 1 0 -15.5 0M147 887.3a7.75 7.75 0 1 0 15.5 0a7.75 7.75 0 1 0 -15.5 0M153.9 885.5a7.75 7.75 0 1 0 15.5 0a7.75 7.75 0 1 0 -15.5 0M160.7 884.8a7.75 7.75 0 1 0 15.5 0a7.75 7.75 0 1 0 -15.5 0M167.5 883.1a7.75 7.75 0 1 0 15.5 0a7.75 7.75 0 1 0 -15.5 0M174.3 882a7.75 7.75 0 1 0 15.5 0a7.75 7.75 0 1 0 -15.5 0M181.1 882a7.75 7.75 0 1 0 15.5 0a7.75 7.75 0 1 0 -15.5 0M187.9 881.4a7.75 7.75 0 1 0 15.5 0a7.75 7.75 0 1 0 -15.5 0M194.8 881.7a7.75 7.75 0 1 0 15.5 0a7.75 7.75 0 1 0 -15.5 0M201.6 880.5a7.75 7.75 0 1 0 15.5 0a7.75 7.75 0 1 0 -15.5 0M208.4 880.4a7.75 7.75 0 1 0 15.5 0a7.75 7.75 0 1 0 -15.5 0M215.2 880.1a7.75 7.75 0 1 0 15.5 0a7.75 7.75 0 1 0 -15.5 0M222 880.8a7.75 7.75 0 1 0 15.5 0a7.75 7.75 0 1 0 -15.5 0M228.8 880a7.75 7.75 0 1 0 15.5 0a7.75 7.75 0 1 0 -15.5 0M235.7 880.4a7.75 7.75 0 1 0 15.5 0a7.75 7.75 0 1 0 -15.5 0M242.5 880.5a7.75 7.75 0 1 0 15.5 0a7.75 7.75 0 1 0 -15.5 0M249.3 879.7a7.75 7.75 0 1 0 15.5 0a7.75 7.75 0 1 0 -15.5 0M256.1 880.3a7.75 7.75 0 1 0 15.5 0a7.75 7.75 0 1 0 -15.5 0M262.9 879.5a7.75 7.75 0 1 0 15.5 0a7.75 7.75 0 1 0 -15.5 0M269.7 880.1a7.75 7.75 0 1 0 15.5 0a7.75 7.75 0 1 0 -15.5 0M276.6 879.4a7.75 7.75 0 1 0 15.5 0a7.75 7.75 0 1 0 -15.5 0M283.4 879.8a7.75 7.75 0 1 0 15.5 0a7.75 7.75 0 1 0 -15.5 0M290.2 878.7a7.75 7.75 0 1 0 15.5 0a7.75 7.75 0 1 0 -15.5 0M297 878.7a7.75 7.75 0 1 0 15.5 0a7.75 7.75 0 1 0 -15.5 0M303.8 880a7.75 7.75 0 1 0 15.5 0a7.75 7.75 0 1 0 -15.5 0M310.6 879.2a7.75 7.75 0 1 0 15.5 0a7.75 7.75 0 1 0 -15.5 0M317.4 878.9a7.75 7.75 0 1 0 15.5 0a7.75 7.75 0 1 0 -15.5 0M324.3 879.6a7.75 7.75 0 1 0 15.5 0a7.75 7.75 0 1 0 -15.5 0M331.1 879.7a7.75 7.75 0 1 0 15.5 0a7.75 7.75 0 1 0 -15.5 0M337.9 879.5a7.75 7.75 0 1 0 15.5 0a7.75 7.75 0 1 0 -15.5 0M344.7 879.4a7.75 7.75 0 1 0 15.5 0a7.75 7.75 0 1 0 -15.5 0M351.5 878.6a7.75 7.75 0 1 0 15.5 0a7.75 7.75 0 1 0 -15.5 0M358.3 878.5a7.75 7.75 0 1 0 15.5 0a7.75 7.75 0 1 0 -15.5 0M365.2 879.7a7.75 7.75 0 1 0 15.5 0a7.75 7.75 0 1 0 -15.5 0M372 879.8a7.75 7.75 0 1 0 15.5 0a7.75 7.75 0 1 0 -15.5 0M378.8 879.6a7.75 7.75 0 1 0 15.5 0a7.75 7.75 0 1 0 -15.5 0M385.6 878.9a7.75 7.75 0 1 0 15.5 0a7.75 7.75 0 1 0 -15.5 0M392.4 879.3a7.75 7.75 0 1 0 15.5 0a7.75 7.75 0 1 0 -15.5 0M399.2 879.7a7.75 7.75 0 1 0 15.5 0a7.75 7.75 0 1 0 -15.5 0M406.1 878.9a7.75 7.75 0 1 0 15.5 0a7.75 7.75 0 1 0 -15.5 0M412.9 878.9a7.75 7.75 0 1 0 15.5 0a7.75 7.75 0 1 0 -15.5 0M419.7 879.3a7.75 7.75 0 1 0 15.5 0a7.75 7.75 0 1 0 -15.5 0M426.5 879.2a7.75 7.75 0 1 0 15.5 0a7.75 7.75 0 1 0 -15.5 0M433.3 879.5a7.75 7.75 0 1 0 15.5 0a7.75 7.75 0 1 0 -15.5 0M440.1 879.8a7.75 7.75 0 1 0 15.5 0a7.75 7.75 0 1 0 -15.5 0M447 878.3a7.75 7.75 0 1 0 15.5 0a7.75 7.75 0 1 0 -15.5 0M453.8 879.8a7.75 7.75 0 1 0 15.5 0a7.75 7.75 0 1 0 -15.5 0M460.6 879.1a7.75 7.75 0 1 0 15.5 0a7.75 7.75 0 1 0 -15.5 0M467.4 879.7a7.75 7.75 0 1 0 15.5 0a7.75 7.75 0 1 0 -15.5 0M474.2 878.7a7.75 7.75 0 1 0 15.5 0a7.75 7.75 0 1 0 -15.5 0M481 878.8a7.75 7.75 0 1 0 15.5 0a7.75 7.75 0 1 0 -15.5 0M487.8 879.2a7.75 7.75 0 1 0 15.5 0a7.75 7.75 0 1 0 -15.5 0M494.7 879.3a7.75 7.75 0 1 0 15.5 0a7.75 7.75 0 1 0 -15.5 0M501.5 878.6a7.75 7.75 0 1 0 15.5 0a7.75 7.75 0 1 0 -15.5 0M508.3 878.9a7.75 7.75 0 1 0 15.5 0a7.75 7.75 0 1 0 -15.5 0M515.1 879.4a7.75 7.75 0 1 0 15.5 0a7.75 7.75 0 1 0 -15.5 0M521.9 879.6a7.75 7.75 0 1 0 15.5 0a7.75 7.75 0 1 0 -15.5 0M528.7 878.5a7.75 7.75 0 1 0 15.5 0a7.75 7.75 0 1 0 -15.5 0M535.6 878.5a7.75 7.75 0 1 0 15.5 0a7.75 7.75 0 1 0 -15.5 0M542.4 878.6a7.75 7.75 0 1 0 15.5 0a7.75 7.75 0 1 0 -15.5 0M549.2 878.3a7.75 7.75 0 1 0 15.5 0a7.75 7.75 0 1 0 -15.5 0M556 879.4a7.75 7.75 0 1 0 15.5 0a7.75 7.75 0 1 0 -15.5 0M562.8 878.6a7.75 7.75 0 1 0 15.5 0a7.75 7.75 0 1 0 -15.5 0M569.6 878.5a7.75 7.75 0 1 0 15.5 0a7.75 7.75 0 1 0 -15.5 0M576.5 878.6a7.75 7.75 0 1 0 15.5 0a7.75 7.75 0 1 0 -15.5 0M583.3 878.9a7.75 7.75 0 1 0 15.5 0a7.75 7.75 0 1 0 -15.5 0M590.1 878.5a7.75 7.75 0 1 0 15.5 0a7.75 7.75 0 1 0 -15.5 0M596.9 879.3a7.75 7.75 0 1 0 15.5 0a7.75 7.75 0 1 0 -15.5 0M603.7 878.6a7.75 7.75 0 1 0 15.5 0a7.75 7.75 0 1 0 -15.5 0M610.5 879.2a7.75 7.75 0 1 0 15.5 0a7.75 7.75 0 1 0 -15.5 0M617.4 879.5a7.75 7.75 0 1 0 15.5 0a7.75 7.75 0 1 0 -15.5 0M624.2 878.4a7.75 7.75 0 1 0 15.5 0a7.75 7.75 0 1 0 -15.5 0M631 879.5a7.75 7.75 0 1 0 15.5 0a7.75 7.75 0 1 0 -15.5 0M637.8 878.1a7.75 7.75 0 1 0 15.5 0a7.75 7.75 0 1 0 -15.5 0M644.6 879.1a7.75 7.75 0 1 0 15.5 0a7.75 7.75 0 1 0 -15.5 0M651.4 878a7.75 7.75 0 1 0 15.5 0a7.75 7.75 0 1 0 -15.5 0M658.2 878.7a7.75 7.75 0 1 0 15.5 0a7.75 7.75 0 1 0 -15.5 0M665.1 878.7a7.75 7.75 0 1 0 15.5 0a7.75 7.75 0 1 0 -15.5 0M671.9 878.8a7.75 7.75 0 1 0 15.5 0a7.75 7.75 0 1 0 -15.5 0M678.7 879.3a7.75 7.75 0 1 0 15.5 0a7.75 7.75 0 1 0 -15.5 0M685.5 878.6a7.75 7.75 0 1 0 15.5 0a7.75 7.75 0 1 0 -15.5 0M692.3 878.1a7.75 7.75 0 1 0 15.5 0a7.75 7.75 0 1 0 -15.5 0M699.1 879.2a7.75 7.75 0 1 0 15.5 0a7.75 7.75 0 1 0 -15.5 0M706 879.3a7.75 7.75 0 1 0 15.5 0a7.75 7.75 0 1 0 -15.5 0M712.8 879.2a7.75 7.75 0 1 0 15.5 0a7.75 7.75 0 1 0 -15.5 0M719.6 878.1a7.75 7.75 0 1 0 15.5 0a7.75 7.75 0 1 0 -15.5 0M726.4 878.6a7.75 7.75 0 1 0 15.5 0a7.75 7.75 0 1 0 -15.5 0M733.2 878.1a7.75 7.75 0 1 0 15.5 0a7.75 7.75 0 1 0 -15.5 0M740 878a7.75 7.75 0 1 0 15.5 0a7.75 7.75 0 1 0 -15.5 0M746.9 879.1a7.75 7.75 0 1 0 15.5 0a7.75 7.75 0 1 0 -15.5 0M753.7 878.2a7.75 7.75 0 1 0 15.5 0a7.75 7.75 0 1 0 -15.5 0M760.5 879.1a7.75 7.75 0 1 0 15.5 0a7.75 7.75 0 1 0 -15.5 0M767.3 877.7a7.75 7.75 0 1 0 15.5 0a7.75 7.75 0 1 0 -15.5 0M774.1 879a7.75 7.75 0 1 0 15.5 0a7.75 7.75 0 1 0 -15.5 0M780.9 878.2a7.75 7.75 0 1 0 15.5 0a7.75 7.75 0 1 0 -15.5 0M787.8 877.9a7.75 7.75 0 1 0 15.5 0a7.75 7.75 0 1 0 -15.5 0" fill="none" stroke="#000000" stroke-width="1.7"/>
<text x="113.9" y="1457.8" font-size="34.5" text-anchor="middle">0</text>
<text x="182.1" y="1457.8" font-size="34.5" text-anchor="middle">10</text>
<text x="250.2" y="1457.8" font-size="34.5" text-anchor="middle">20</text>
<text x="318.4" y="1457.8" font-size="34.5" text-anchor="middle">30</text>
<text x="386.5" y="1457.8" font-size="34.5" text-anchor="middle">40</text>
<text x="454.7" y="1457.8" font-size="34.5" text-anchor="middle">50</text>
<text x="522.9" y="1457.8" font-size="34.5" text-anchor="middle">60</text>
<text x="591" y="1457.8" font-size="34.5" text-anchor="middle">70</text>
<text x="659.2" y="1457.8" font-size="34.5" text-anchor="middle">80</text>
<text x="727.3" y="1457.8" font-size="34.5" text-anchor="middle">90</text>
<text x="795.5" y="1457.8" font-size="34.5" text-anchor="middle">100</text>
<text x="102" y="1427.1" font-size="34.5" text-anchor="end">0</text>
<text x="102" y="1370.4" font-size="34.5" text-anchor="end">20</text>
<text x="102" y="1313.6" font-size="34.5" text-anchor="end">40</text>
<text x="102" y="1256.9" font-size="34.5" text-anchor="end">60</text>
<text x="102" y="1200.1" font-size="34.5" text-anchor="end">80</text>
<text x="102" y="1143.4" font-size="34.5" text-anchor="end">100</text>
<text x="102" y="1086.7" font-size="34.5" text-anchor="end">120</text>
<text x="102" y="1029.9" font-size="34.5" text-anchor="end">140</text>
<text x="102" y="973.2" font-size="34.5" text-anchor="end">160</text>
<text x="102" y="916.4" font-size="34.5" text-anchor="end">180</text>
<text x="102" y="859.7" font-size="34.5" text-anchor="end">200</text>
<text x="807.5" y="1426.9" font-size="34.5" text-anchor="start">0.8</text>
<text x="807.5" y="1291.9" font-size="34.5" text-anchor="start">0.85</text>
<text x="807.5" y="1156.8" font-size="34.5" text-anchor="start">0.9</text>
<text x="807.5" y="1021.8" font-size="34.5" text-anchor="start">0.95</text>
<text x="807.5" y="886.8" font-size="34.5" text-anchor="start">1</text>
<text x="17.2" y="787.9" font-size="42.5" text-anchor="start">(c)</text>
<text x="454.6" y="1502" font-size="41.0" text-anchor="middle">Cycle Number</text>
<text x="29.2" y="1131.8" font-size="40.9" text-anchor="middle" transform="rotate(-90 29.2 1131.8)">Discharge Capacity (mAh/g)</text>
<text x="889" y="1131.8" font-size="40.8" text-anchor="middle" transform="rotate(90 889 1131.8)">Coulombic Efficiency</text>
<path d="M157.4 1244.1h20.4l-10.2 17.8z" fill="#000000"/>
<text x="210.3" y="1262.7" font-size="31.5" text-anchor="start">DPM</text>
<path d="M157.4 1284.9h20.4l-10.2 17.8z" fill="#0000ff"/>
<text x="210.5" y="1303.6" font-size="31.5" text-anchor="start">100 rpm</text>
<path d="M157.4 1325.8h20.4l-10.2 17.8z" fill="#ff0000"/>
<text x="210.3" y="1344.5" font-size="31.5" text-anchor="start">200 rpm</text>
<path d="M376 1246.8h20.4l-10.2 17.8z" fill="#ff6600"/>
<text x="428.9" y="1264.4" font-size="31.5" text-anchor="start">300 rpm</text>
<path d="M376 1287.6h20.4l-10.2 17.8z" fill="#009933"/>
<text x="428.9" y="1305.6" font-size="31.5" text-anchor="start">400 rpm</text>
</g>
<g id="panel-d">
<rect x="1094.7" y="848.1" width="678.3" height="564.6" fill="none" stroke="#000" stroke-width="3.6"/>
<path d="M1128.6 1412.7v-5.6M1128.6 848.1v5.6M1196.4 1412.7v-5.6M1196.4 848.1v5.6M1264.3 1412.7v-5.6M1264.3 848.1v5.6M1332.1 1412.7v-5.6M1332.1 848.1v5.6M1399.9 1412.7v-5.6M1399.9 848.1v5.6M1467.8 1412.7v-5.6M1467.8 848.1v5.6M1535.6 1412.7v-5.6M1535.6 848.1v5.6M1603.4 1412.7v-5.6M1603.4 848.1v5.6M1671.3 1412.7v-5.6M1671.3 848.1v5.6M1739.1 1412.7v-5.6M1739.1 848.1v5.6M1162.5 1412.7v-11.4M1162.5 848.1v11.4M1230.4 1412.7v-11.4M1230.4 848.1v11.4M1298.2 1412.7v-11.4M1298.2 848.1v11.4M1366 1412.7v-11.4M1366 848.1v11.4M1433.8 1412.7v-11.4M1433.8 848.1v11.4M1501.7 1412.7v-11.4M1501.7 848.1v11.4M1569.5 1412.7v-11.4M1569.5 848.1v11.4M1637.3 1412.7v-11.4M1637.3 848.1v11.4M1705.2 1412.7v-11.4M1705.2 848.1v11.4M1094.7 1384.5h5.6M1773 1384.5h-5.6M1094.7 1328h5.6M1773 1328h-5.6M1094.7 1271.5h5.6M1773 1271.5h-5.6M1094.7 1215.1h5.6M1773 1215.1h-5.6M1094.7 1158.6h5.6M1773 1158.6h-5.6M1094.7 1102.2h5.6M1773 1102.2h-5.6M1094.7 1045.7h5.6M1773 1045.7h-5.6M1094.7 989.2h5.6M1773 989.2h-5.6M1094.7 932.8h5.6M1773 932.8h-5.6M1094.7 876.3h5.6M1773 876.3h-5.6M1094.7 1356.2h11.4M1773 1356.2h-11.4M1094.7 1299.8h11.4M1773 1299.8h-11.4M1094.7 1243.3h11.4M1773 1243.3h-11.4M1094.7 1186.9h11.4M1773 1186.9h-11.4M1094.7 1130.4h11.4M1773 1130.4h-11.4M1094.7 1073.9h11.4M1773 1073.9h-11.4M1094.7 1017.5h11.4M1773 1017.5h-11.4M1094.7 961h11.4M1773 961h-11.4M1094.7 904.6h11.4M1773 904.6h-11.4" fill="none" stroke="#000" stroke-width="3.0" stroke-linecap="round"/>
<path d="M1095.7 1385.3a5.8 5.8 0 1 0 11.6 0a5.8 5.8 0 1 0 -11.6 0zM1102.5 1371.3a5.8 5.8 0 1 0 11.6 0a5.8 5.8 0 1 0 -11.6 0zM1109.2 1367.9a5.8 5.8 0 1 0 11.6 0a5.8 5.8 0 1 0 -11.6 0zM1116 1366.5a5.8 5.8 0 1 0 11.6 0a5.8 5.8 0 1 0 -11.6 0zM1122.8 1365.5a5.8 5.8 0 1 0 11.6 0a5.8 5.8 0 1 0 -11.6 0zM1129.6 1364.8a5.8 5.8 0 1 0 11.6 0a5.8 5.8 0 1 0 -11.6 0zM1136.4 1364.3a5.8 5.8 0 1 0 11.6 0a5.8 5.8 0 1 0 -11.6 0zM1143.2 1364a5.8 5.8 0 1 0 11.6 0a5.8 5.8 0 1 0 -11.6 0zM1149.9 1363.7a5.8 5.8 0 1 0 11.6 0a5.8 5.8 0 1 0 -11.6 0zM1156.7 1363.4a5.8 5.8 0 1 0 11.6 0a5.8 5.8 0 1 0 -11.6 0zM1163.5 1362.7a5.8 5.8 0 1 0 11.6 0a5.8 5.8 0 1 0 -11.6 0zM1170.3 1361.6a5.8 5.8 0 1 0 11.6 0a5.8 5.8 0 1 0 -11.6 0zM1177.1 1360.2a5.8 5.8 0 1 0 11.6 0a5.8 5.8 0 1 0 -11.6 0zM1183.9 1358.7a5.8 5.8 0 1 0 11.6 0a5.8 5.8 0 1 0 -11.6 0zM1190.6 1357.4a5.8 5.8 0 1 0 11.6 0a5.8 5.8 0 1 0 -11.6 0zM1197.4 1356.3a5.8 5.8 0 1 0 11.6 0a5.8 5.8 0 1 0 -11.6 0zM1204.2 1355.4a5.8 5.8 0 1 0 11.6 0a5.8 5.8 0 1 0 -11.6 0zM1211 1354.5a5.8 5.8 0 1 0 11.6 0a5.8 5.8 0 1 0 -11.6 0zM1217.8 1353.5a5.8 5.8 0 1 0 11.6 0a5.8 5.8 0 1 0 -11.6 0zM1224.6 1352.4a5.8 5.8 0 1 0 11.6 0a5.8 5.8 0 1 0 -11.6 0zM1231.3 1350.9a5.8 5.8 0 1 0 11.6 0a5.8 5.8 0 1 0 -11.6 0zM1238.1 1349.3a5.8 5.8 0 1 0 11.6 0a5.8 5.8 0 1 0 -11.6 0zM1244.9 1347.6a5.8 5.8 0 1 0 11.6 0a5.8 5.8 0 1 0 -11.6 0zM1251.7 1345.9a5.8 5.8 0 1 0 11.6 0a5.8 5.8 0 1 0 -11.6 0zM1258.5 1344.5a5.8 5.8 0 1 0 11.6 0a5.8 5.8 0 1 0 -11.6 0zM1265.3 1343.3a5.8 5.8 0 1 0 11.6 0a5.8 5.8 0 1 0 -11.6 0zM1272 1342.2a5.8 5.8 0 1 0 11.6 0a5.8 5.8 0 1 0 -11.6 0zM1278.8 1341.1a5.8 5.8 0 1 0 11.6 0a5.8 5.8 0 1 0 -11.6 0zM1285.6 1340a5.8 5.8 0 1 0 11.6 0a5.8 5.8 0 1 0 -11.6 0zM1292.4 1339a5.8 5.8 0 1 0 11.6 0a5.8 5.8 0 1 0 -11.6 0zM1299.2 1338a5.8 5.8 0 1 0 11.6 0a5.8 5.8 0 1 0 -11.6 0zM1306 1337.1a5.8 5.8 0 1 0 11.6 0a5.8 5.8 0 1 0 -11.6 0zM1312.7 1336.3a5.8 5.8 0 1 0 11.6 0a5.8 5.8 0 1 0 -11.6 0zM1319.5 1335.5a5.8 5.8 0 1 0 11.6 0a5.8 5.8 0 1 0 -11.6 0zM1326.3 1334.7a5.8 5.8 0 1 0 11.6 0a5.8 5.8 0 1 0 -11.6 0zM1333.1 1334a5.8 5.8 0 1 0 11.6 0a5.8 5.8 0 1 0 -11.6 0zM1339.9 1333.4a5.8 5.8 0 1 0 11.6 0a5.8 5.8 0 1 0 -11.6 0zM1346.7 1332.8a5.8 5.8 0 1 0 11.6 0a5.8 5.8 0 1 0 -11.6 0zM1353.4 1332.3a5.8 5.8 0 1 0 11.6 0a5.8 5.8 0 1 0 -11.6 0zM1360.2 1331.8a5.8 5.8 0 1 0 11.6 0a5.8 5.8 0 1 0 -11.6 0zM1367 1331.3a5.8 5.8 0 1 0 11.6 0a5.8 5.8 0 1 0 -11.6 0zM1373.8 1330.9a5.8 5.8 0 1 0 11.6 0a5.8 5.8 0 1 0 -11.6 0zM1380.6 1330.4a5.8 5.8 0 1 0 11.6 0a5.8 5.8 0 1 0 -11.6 0zM1387.4 1330a5.8 5.8 0 1 0 11.6 0a5.8 5.8 0 1 0 -11.6 0zM1394.1 1329.5a5.8 5.8 0 1 0 11.6 0a5.8 5.8 0 1 0 -11.6 0zM1400.9 1329.1a5.8 5.8 0 1 0 11.6 0a5.8 5.8 0 1 0 -11.6 0zM1407.7 1328.7a5.8 5.8 0 1 0 11.6 0a5.8 5.8 0 1 0 -11.6 0zM1414.5 1328.4a5.8 5.8 0 1 0 11.6 0a5.8 5.8 0 1 0 -11.6 0zM1421.3 1328a5.8 5.8 0 1 0 11.6 0a5.8 5.8 0 1 0 -11.6 0zM1428 1327.6a5.8 5.8 0 1 0 11.6 0a5.8 5.8 0 1 0 -11.6 0zM1434.8 1327.3a5.8 5.8 0 1 0 11.6 0a5.8 5.8 0 1 0 -11.6 0zM1441.6 1327a5.8 5.8 0 1 0 11.6 0a5.8 5.8 0 1 0 -11.6 0zM1448.4 1326.7a5.8 5.8 0 1 0 11.6 0a5.8 5.8 0 1 0 -11.6 0zM1455.2 1326.4a5.8 5.8 0 1 0 11.6 0a5.8 5.8 0 1 0 -11.6 0zM1462 1326.1a5.8 5.8 0 1 0 11.6 0a5.8 5.8 0 1 0 -11.6 0zM1468.7 1325.9a5.8 5.8 0 1 0 11.6 0a5.8 5.8 0 1 0 -11.6 0zM1475.5 1325.6a5.8 5.8 0 1 0 11.6 0a5.8 5.8 0 1 0 -11.6 0zM1482.3 1325.4a5.8 5.8 0 1 0 11.6 0a5.8 5.8 0 1 0 -11.6 0zM1489.1 1325.2a5.8 5.8 0 1 0 11.6 0a5.8 5.8 0 1 0 -11.6 0zM1495.9 1325a5.8 5.8 0 1 0 11.6 0a5.8 5.8 0 1 0 -11.6 0zM1502.7 1324.8a5.8 5.8 0 1 0 11.6 0a5.8 5.8 0 1 0 -11.6 0zM1509.4 1324.6a5.8 5.8 0 1 0 11.6 0a5.8 5.8 0 1 0 -11.6 0zM1516.2 1324.4a5.8 5.8 0 1 0 11.6 0a5.8 5.8 0 1 0 -11.6 0zM1523 1324.3a5.8 5.8 0 1 0 11.6 0a5.8 5.8 0 1 0 -11.6 0zM1529.8 1324.1a5.8 5.8 0 1 0 11.6 0a5.8 5.8 0 1 0 -11.6 0zM1536.6 1323.9a5.8 5.8 0 1 0 11.6 0a5.8 5.8 0 1 0 -11.6 0zM1543.4 1323.8a5.8 5.8 0 1 0 11.6 0a5.8 5.8 0 1 0 -11.6 0zM1550.1 1323.7a5.8 5.8 0 1 0 11.6 0a5.8 5.8 0 1 0 -11.6 0zM1556.9 1323.5a5.8 5.8 0 1 0 11.6 0a5.8 5.8 0 1 0 -11.6 0zM1563.7 1323.4a5.8 5.8 0 1 0 11.6 0a5.8 5.8 0 1 0 -11.6 0zM1570.5 1323.3a5.8 5.8 0 1 0 11.6 0a5.8 5.8 0 1 0 -11.6 0zM1577.3 1323.1a5.8 5.8 0 1 0 11.6 0a5.8 5.8 0 1 0 -11.6 0zM1584.1 1323a5.8 5.8 0 1 0 11.6 0a5.8 5.8 0 1 0 -11.6 0zM1590.8 1322.9a5.8 5.8 0 1 0 11.6 0a5.8 5.8 0 1 0 -11.6 0zM1597.6 1322.8a5.8 5.8 0 1 0 11.6 0a5.8 5.8 0 1 0 -11.6 0zM1604.4 1322.7a5.8 5.8 0 1 0 11.6 0a5.8 5.8 0 1 0 -11.6 0zM1611.2 1322.5a5.8 5.8 0 1 0 11.6 0a5.8 5.8 0 1 0 -11.6 0zM1618 1322.4a5.8 5.8 0 1 0 11.6 0a5.8 5.8 0 1 0 -11.6 0zM1624.8 1322.3a5.8 5.8 0 1 0 11.6 0a5.8 5.8 0 1 0 -11.6 0zM1631.5 1322.2a5.8 5.8 0 1 0 11.6 0a5.8 5.8 0 1 0 -11.6 0zM1638.3 1322.1a5.8 5.8 0 1 0 11.6 0a5.8 5.8 0 1 0 -11.6 0zM1645.1 1322a5.8 5.8 0 1 0 11.6 0a5.8 5.8 0 1 0 -11.6 0zM1651.9 1321.9a5.8 5.8 0 1 0 11.6 0a5.8 5.8 0 1 0 -11.6 0zM1658.7 1321.8a5.8 5.8 0 1 0 11.6 0a5.8 5.8 0 1 0 -11.6 0zM1665.5 1321.7a5.8 5.8 0 1 0 11.6 0a5.8 5.8 0 1 0 -11.6 0zM1672.2 1321.5a5.8 5.8 0 1 0 11.6 0a5.8 5.8 0 1 0 -11.6 0zM1679 1321.4a5.8 5.8 0 1 0 11.6 0a5.8 5.8 0 1 0 -11.6 0zM1685.8 1321.3a5.8 5.8 0 1 0 11.6 0a5.8 5.8 0 1 0 -11.6 0zM1692.6 1321.2a5.8 5.8 0 1 0 11.6 0a5.8 5.8 0 1 0 -11.6 0zM1699.4 1321.1a5.8 5.8 0 1 0 11.6 0a5.8 5.8 0 1 0 -11.6 0zM1706.2 1321a5.8 5.8 0 1 0 11.6 0a5.8 5.8 0 1 0 -11.6 0zM1712.9 1320.8a5.8 5.8 0 1 0 11.6 0a5.8 5.8 0 1 0 -11.6 0zM1719.7 1320.7a5.8 5.8 0 1 0 11.6 0a5.8 5.8 0 1 0 -11.6 0zM1726.5 1320.6a5.8 5.8 0 1 0 11.6 0a5.8 5.8 0 1 0 -11.6 0zM1733.3 1320.5a5.8 5.8 0 1 0 11.6 0a5.8 5.8 0 1 0 -11.6 0zM1740.1 1320.4a5.8 5.8 0 1 0 11.6 0a5.8 5.8 0 1 0 -11.6 0zM1746.9 1320.3a5.8 5.8 0 1 0 11.6 0a5.8 5.8 0 1 0 -11.6 0zM1753.6 1320.2a5.8 5.8 0 1 0 11.6 0a5.8 5.8 0 1 0 -11.6 0zM1760.4 1320.1a5.8 5.8 0 1 0 11.6 0a5.8 5.8 0 1 0 -11.6 0zM1767.2 1320a5.8 5.8 0 1 0 11.6 0a5.8 5.8 0 1 0 -11.6 0z" fill="#0000ff"/>
<path d="M1095.7 1387.2a5.8 5.8 0 1 0 11.6 0a5.8 5.8 0 1 0 -11.6 0zM1102.5 1371a5.8 5.8 0 1 0 11.6 0a5.8 5.8 0 1 0 -11.6 0zM1109.2 1367.6a5.8 5.8 0 1 0 11.6 0a5.8 5.8 0 1 0 -11.6 0zM1116 1366.2a5.8 5.8 0 1 0 11.6 0a5.8 5.8 0 1 0 -11.6 0zM1122.8 1365.2a5.8 5.8 0 1 0 11.6 0a5.8 5.8 0 1 0 -11.6 0zM1129.6 1364.4a5.8 5.8 0 1 0 11.6 0a5.8 5.8 0 1 0 -11.6 0zM1136.4 1363.8a5.8 5.8 0 1 0 11.6 0a5.8 5.8 0 1 0 -11.6 0zM1143.2 1363.2a5.8 5.8 0 1 0 11.6 0a5.8 5.8 0 1 0 -11.6 0zM1149.9 1362.5a5.8 5.8 0 1 0 11.6 0a5.8 5.8 0 1 0 -11.6 0zM1156.7 1361.6a5.8 5.8 0 1 0 11.6 0a5.8 5.8 0 1 0 -11.6 0zM1163.5 1360.5a5.8 5.8 0 1 0 11.6 0a5.8 5.8 0 1 0 -11.6 0zM1170.3 1359.3a5.8 5.8 0 1 0 11.6 0a5.8 5.8 0 1 0 -11.6 0zM1177.1 1358.1a5.8 5.8 0 1 0 11.6 0a5.8 5.8 0 1 0 -11.6 0zM1183.9 1356.7a5.8 5.8 0 1 0 11.6 0a5.8 5.8 0 1 0 -11.6 0zM1190.6 1355.3a5.8 5.8 0 1 0 11.6 0a5.8 5.8 0 1 0 -11.6 0zM1197.4 1353.9a5.8 5.8 0 1 0 11.6 0a5.8 5.8 0 1 0 -11.6 0zM1204.2 1352.4a5.8 5.8 0 1 0 11.6 0a5.8 5.8 0 1 0 -11.6 0zM1211 1350.7a5.8 5.8 0 1 0 11.6 0a5.8 5.8 0 1 0 -11.6 0zM1217.8 1349.1a5.8 5.8 0 1 0 11.6 0a5.8 5.8 0 1 0 -11.6 0zM1224.6 1347.5a5.8 5.8 0 1 0 11.6 0a5.8 5.8 0 1 0 -11.6 0zM1231.3 1346a5.8 5.8 0 1 0 11.6 0a5.8 5.8 0 1 0 -11.6 0zM1238.1 1344.5a5.8 5.8 0 1 0 11.6 0a5.8 5.8 0 1 0 -11.6 0zM1244.9 1343.1a5.8 5.8 0 1 0 11.6 0a5.8 5.8 0 1 0 -11.6 0zM1251.7 1341.7a5.8 5.8 0 1 0 11.6 0a5.8 5.8 0 1 0 -11.6 0zM1258.5 1340.5a5.8 5.8 0 1 0 11.6 0a5.8 5.8 0 1 0 -11.6 0zM1265.3 1339.3a5.8 5.8 0 1 0 11.6 0a5.8 5.8 0 1 0 -11.6 0zM1272 1338.3a5.8 5.8 0 1 0 11.6 0a5.8 5.8 0 1 0 -11.6 0zM1278.8 1337.2a5.8 5.8 0 1 0 11.6 0a5.8 5.8 0 1 0 -11.6 0zM1285.6 1336.2a5.8 5.8 0 1 0 11.6 0a5.8 5.8 0 1 0 -11.6 0zM1292.4 1335.2a5.8 5.8 0 1 0 11.6 0a5.8 5.8 0 1 0 -11.6 0zM1299.2 1334.2a5.8 5.8 0 1 0 11.6 0a5.8 5.8 0 1 0 -11.6 0zM1306 1333.3a5.8 5.8 0 1 0 11.6 0a5.8 5.8 0 1 0 -11.6 0zM1312.7 1332.5a5.8 5.8 0 1 0 11.6 0a5.8 5.8 0 1 0 -11.6 0zM1319.5 1331.6a5.8 5.8 0 1 0 11.6 0a5.8 5.8 0 1 0 -11.6 0zM1326.3 1330.9a5.8 5.8 0 1 0 11.6 0a5.8 5.8 0 1 0 -11.6 0zM1333.1 1330.2a5.8 5.8 0 1 0 11.6 0a5.8 5.8 0 1 0 -11.6 0zM1339.9 1329.6a5.8 5.8 0 1 0 11.6 0a5.8 5.8 0 1 0 -11.6 0zM1346.7 1329a5.8 5.8 0 1 0 11.6 0a5.8 5.8 0 1 0 -11.6 0zM1353.4 1328.5a5.8 5.8 0 1 0 11.6 0a5.8 5.8 0 1 0 -11.6 0zM1360.2 1328a5.8 5.8 0 1 0 11.6 0a5.8 5.8 0 1 0 -11.6 0zM1367 1327.5a5.8 5.8 0 1 0 11.6 0a5.8 5.8 0 1 0 -11.6 0zM1373.8 1327.1a5.8 5.8 0 1 0 11.6 0a5.8 5.8 0 1 0 -11.6 0zM1380.6 1326.6a5.8 5.8 0 1 0 11.6 0a5.8 5.8 0 1 0 -11.6 0zM1387.4 1326.2a5.8 5.8 0 1 0 11.6 0a5.8 5.8 0 1 0 -11.6 0zM1394.1 1325.8a5.8 5.8 0 1 0 11.6 0a5.8 5.8 0 1 0 -11.6 0zM1400.9 1325.4a5.8 5.8 0 1 0 11.6 0a5.8 5.8 0 1 0 -11.6 0zM1407.7 1325a5.8 5.8 0 1 0 11.6 0a5.8 5.8 0 1 0 -11.6 0zM1414.5 1324.6a5.8 5.8 0 1 0 11.6 0a5.8 5.8 0 1 0 -11.6 0zM1421.3 1324.2a5.8 5.8 0 1 0 11.6 0a5.8 5.8 0 1 0 -11.6 0zM1428 1323.9a5.8 5.8 0 1 0 11.6 0a5.8 5.8 0 1 0 -11.6 0zM1434.8 1323.6a5.8 5.8 0 1 0 11.6 0a5.8 5.8 0 1 0 -11.6 0zM1441.6 1323.2a5.8 5.8 0 1 0 11.6 0a5.8 5.8 0 1 0 -11.6 0zM1448.4 1322.9a5.8 5.8 0 1 0 11.6 0a5.8 5.8 0 1 0 -11.6 0zM1455.2 1322.6a5.8 5.8 0 1 0 11.6 0a5.8 5.8 0 1 0 -11.6 0zM1462 1322.4a5.8 5.8 0 1 0 11.6 0a5.8 5.8 0 1 0 -11.6 0zM1468.7 1322.1a5.8 5.8 0 1 0 11.6 0a5.8 5.8 0 1 0 -11.6 0zM1475.5 1321.9a5.8 5.8 0 1 0 11.6 0a5.8 5.8 0 1 0 -11.6 0zM1482.3 1321.6a5.8 5.8 0 1 0 11.6 0a5.8 5.8 0 1 0 -11.6 0zM1489.1 1321.4a5.8 5.8 0 1 0 11.6 0a5.8 5.8 0 1 0 -11.6 0zM1495.9 1321.2a5.8 5.8 0 1 0 11.6 0a5.8 5.8 0 1 0 -11.6 0zM1502.7 1321a5.8 5.8 0 1 0 11.6 0a5.8 5.8 0 1 0 -11.6 0zM1509.4 1320.8a5.8 5.8 0 1 0 11.6 0a5.8 5.8 0 1 0 -11.6 0zM1516.2 1320.6a5.8 5.8 0 1 0 11.6 0a5.8 5.8 0 1 0 -11.6 0zM1523 1320.4a5.8 5.8 0 1 0 11.6 0a5.8 5.8 0 1 0 -11.6 0zM1529.8 1320.3a5.8 5.8 0 1 0 11.6 0a5.8 5.8 0 1 0 -11.6 0zM1536.6 1320.1a5.8 5.8 0 1 0 11.6 0a5.8 5.8 0 1 0 -11.6 0zM1543.4 1320a5.8 5.8 0 1 0 11.6 0a5.8 5.8 0 1 0 -11.6 0zM1550.1 1319.8a5.8 5.8 0 1 0 11.6 0a5.8 5.8 0 1 0 -11.6 0zM1556.9 1319.7a5.8 5.8 0 1 0 11.6 0a5.8 5.8 0 1 0 -11.6 0zM1563.7 1319.5a5.8 5.8 0 1 0 11.6 0a5.8 5.8 0 1 0 -11.6 0zM1570.5 1319.4a5.8 5.8 0 1 0 11.6 0a5.8 5.8 0 1 0 -11.6 0zM1577.3 1319.3a5.8 5.8 0 1 0 11.6 0a5.8 5.8 0 1 0 -11.6 0zM1584.1 1319.1a5.8 5.8 0 1 0 11.6 0a5.8 5.8 0 1 0 -11.6 0zM1590.8 1319a5.8 5.8 0 1 0 11.6 0a5.8 5.8 0 1 0 -11.6 0zM1597.6 1318.9a5.8 5.8 0 1 0 11.6 0a5.8 5.8 0 1 0 -11.6 0zM1604.4 1318.8a5.8 5.8 0 1 0 11.6 0a5.8 5.8 0 1 0 -11.6 0zM1611.2 1318.7a5.8 5.8 0 1 0 11.6 0a5.8 5.8 0 1 0 -11.6 0zM1618 1318.5a5.8 5.8 0 1 0 11.6 0a5.8 5.8 0 1 0 -11.6 0zM1624.8 1318.4a5.8 5.8 0 1 0 11.6 0a5.8 5.8 0 1 0 -11.6 0zM1631.5 1318.3a5.8 5.8 0 1 0 11.6 0a5.8 5.8 0 1 0 -11.6 0zM1638.3 1318.1a5.8 5.8 0 1 0 11.6 0a5.8 5.8 0 1 0 -11.6 0zM1645.1 1318a5.8 5.8 0 1 0 11.6 0a5.8 5.8 0 1 0 -11.6 0zM1651.9 1317.9a5.8 5.8 0 1 0 11.6 0a5.8 5.8 0 1 0 -11.6 0zM1658.7 1317.7a5.8 5.8 0 1 0 11.6 0a5.8 5.8 0 1 0 -11.6 0zM1665.5 1317.6a5.8 5.8 0 1 0 11.6 0a5.8 5.8 0 1 0 -11.6 0zM1672.2 1317.4a5.8 5.8 0 1 0 11.6 0a5.8 5.8 0 1 0 -11.6 0zM1679 1317.3a5.8 5.8 0 1 0 11.6 0a5.8 5.8 0 1 0 -11.6 0zM1685.8 1317.1a5.8 5.8 0 1 0 11.6 0a5.8 5.8 0 1 0 -11.6 0zM1692.6 1317a5.8 5.8 0 1 0 11.6 0a5.8 5.8 0 1 0 -11.6 0zM1699.4 1316.8a5.8 5.8 0 1 0 11.6 0a5.8 5.8 0 1 0 -11.6 0zM1706.2 1316.6a5.8 5.8 0 1 0 11.6 0a5.8 5.8 0 1 0 -11.6 0zM1712.9 1316.5a5.8 5.8 0 1 0 11.6 0a5.8 5.8 0 1 0 -11.6 0zM1719.7 1316.3a5.8 5.8 0 1 0 11.6 0a5.8 5.8 0 1 0 -11.6 0zM1726.5 1316.1a5.8 5.8 0 1 0 11.6 0a5.8 5.8 0 1 0 -11.6 0zM1733.3 1316a5.8 5.8 0 1 0 11.6 0a5.8 5.8 0 1 0 -11.6 0zM1740.1 1315.8a5.8 5.8 0 1 0 11.6 0a5.8 5.8 0 1 0 -11.6 0zM1746.9 1315.6a5.8 5.8 0 1 0 11.6 0a5.8 5.8 0 1 0 -11.6 0zM1753.6 1315.5a5.8 5.8 0 1 0 11.6 0a5.8 5.8 0 1 0 -11.6 0zM1760.4 1315.3a5.8 5.8 0 1 0 11.6 0a5.8 5.8 0 1 0 -11.6 0zM1767.2 1315.1a5.8 5.8 0 1 0 11.6 0a5.8 5.8 0 1 0 -11.6 0z" fill="#ff0000"/>
<path d="M1095.7 1384.4a5.8 5.8 0 1 0 11.6 0a5.8 5.8 0 1 0 -11.6 0zM1102.5 1368.6a5.8 5.8 0 1 0 11.6 0a5.8 5.8 0 1 0 -11.6 0zM1109.2 1365.2a5.8 5.8 0 1 0 11.6 0a5.8 5.8 0 1 0 -11.6 0zM1116 1363.8a5.8 5.8 0 1 0 11.6 0a5.8 5.8 0 1 0 -11.6 0zM1122.8 1362.9a5.8 5.8 0 1 0 11.6 0a5.8 5.8 0 1 0 -11.6 0zM1129.6 1362a5.8 5.8 0 1 0 11.6 0a5.8 5.8 0 1 0 -11.6 0zM1136.4 1361.3a5.8 5.8 0 1 0 11.6 0a5.8 5.8 0 1 0 -11.6 0zM1143.2 1360.5a5.8 5.8 0 1 0 11.6 0a5.8 5.8 0 1 0 -11.6 0zM1149.9 1359.8a5.8 5.8 0 1 0 11.6 0a5.8 5.8 0 1 0 -11.6 0zM1156.7 1359.1a5.8 5.8 0 1 0 11.6 0a5.8 5.8 0 1 0 -11.6 0zM1163.5 1358.3a5.8 5.8 0 1 0 11.6 0a5.8 5.8 0 1 0 -11.6 0zM1170.3 1357.6a5.8 5.8 0 1 0 11.6 0a5.8 5.8 0 1 0 -11.6 0zM1177.1 1356.8a5.8 5.8 0 1 0 11.6 0a5.8 5.8 0 1 0 -11.6 0zM1183.9 1356.1a5.8 5.8 0 1 0 11.6 0a5.8 5.8 0 1 0 -11.6 0zM1190.6 1355.3a5.8 5.8 0 1 0 11.6 0a5.8 5.8 0 1 0 -11.6 0zM1197.4 1354.5a5.8 5.8 0 1 0 11.6 0a5.8 5.8 0 1 0 -11.6 0zM1204.2 1353.7a5.8 5.8 0 1 0 11.6 0a5.8 5.8 0 1 0 -11.6 0zM1211 1352.8a5.8 5.8 0 1 0 11.6 0a5.8 5.8 0 1 0 -11.6 0zM1217.8 1351.8a5.8 5.8 0 1 0 11.6 0a5.8 5.8 0 1 0 -11.6 0zM1224.6 1350.7a5.8 5.8 0 1 0 11.6 0a5.8 5.8 0 1 0 -11.6 0zM1231.3 1349.3a5.8 5.8 0 1 0 11.6 0a5.8 5.8 0 1 0 -11.6 0zM1238.1 1347.9a5.8 5.8 0 1 0 11.6 0a5.8 5.8 0 1 0 -11.6 0zM1244.9 1346.5a5.8 5.8 0 1 0 11.6 0a5.8 5.8 0 1 0 -11.6 0zM1251.7 1345.2a5.8 5.8 0 1 0 11.6 0a5.8 5.8 0 1 0 -11.6 0zM1258.5 1344.1a5.8 5.8 0 1 0 11.6 0a5.8 5.8 0 1 0 -11.6 0zM1265.3 1343.3a5.8 5.8 0 1 0 11.6 0a5.8 5.8 0 1 0 -11.6 0zM1272 1342.6a5.8 5.8 0 1 0 11.6 0a5.8 5.8 0 1 0 -11.6 0zM1278.8 1342a5.8 5.8 0 1 0 11.6 0a5.8 5.8 0 1 0 -11.6 0zM1285.6 1341.4a5.8 5.8 0 1 0 11.6 0a5.8 5.8 0 1 0 -11.6 0zM1292.4 1340.8a5.8 5.8 0 1 0 11.6 0a5.8 5.8 0 1 0 -11.6 0zM1299.2 1340.3a5.8 5.8 0 1 0 11.6 0a5.8 5.8 0 1 0 -11.6 0zM1306 1339.8a5.8 5.8 0 1 0 11.6 0a5.8 5.8 0 1 0 -11.6 0zM1312.7 1339.3a5.8 5.8 0 1 0 11.6 0a5.8 5.8 0 1 0 -11.6 0zM1319.5 1338.9a5.8 5.8 0 1 0 11.6 0a5.8 5.8 0 1 0 -11.6 0zM1326.3 1338.4a5.8 5.8 0 1 0 11.6 0a5.8 5.8 0 1 0 -11.6 0zM1333.1 1338a5.8 5.8 0 1 0 11.6 0a5.8 5.8 0 1 0 -11.6 0zM1339.9 1337.6a5.8 5.8 0 1 0 11.6 0a5.8 5.8 0 1 0 -11.6 0zM1346.7 1337.2a5.8 5.8 0 1 0 11.6 0a5.8 5.8 0 1 0 -11.6 0zM1353.4 1336.8a5.8 5.8 0 1 0 11.6 0a5.8 5.8 0 1 0 -11.6 0zM1360.2 1336.4a5.8 5.8 0 1 0 11.6 0a5.8 5.8 0 1 0 -11.6 0zM1367 1336a5.8 5.8 0 1 0 11.6 0a5.8 5.8 0 1 0 -11.6 0zM1373.8 1335.6a5.8 5.8 0 1 0 11.6 0a5.8 5.8 0 1 0 -11.6 0zM1380.6 1335.2a5.8 5.8 0 1 0 11.6 0a5.8 5.8 0 1 0 -11.6 0zM1387.4 1334.8a5.8 5.8 0 1 0 11.6 0a5.8 5.8 0 1 0 -11.6 0zM1394.1 1334.4a5.8 5.8 0 1 0 11.6 0a5.8 5.8 0 1 0 -11.6 0zM1400.9 1334a5.8 5.8 0 1 0 11.6 0a5.8 5.8 0 1 0 -11.6 0zM1407.7 1333.7a5.8 5.8 0 1 0 11.6 0a5.8 5.8 0 1 0 -11.6 0zM1414.5 1333.3a5.8 5.8 0 1 0 11.6 0a5.8 5.8 0 1 0 -11.6 0zM1421.3 1333a5.8 5.8 0 1 0 11.6 0a5.8 5.8 0 1 0 -11.6 0zM1428 1332.6a5.8 5.8 0 1 0 11.6 0a5.8 5.8 0 1 0 -11.6 0zM1434.8 1332.3a5.8 5.8 0 1 0 11.6 0a5.8 5.8 0 1 0 -11.6 0zM1441.6 1332a5.8 5.8 0 1 0 11.6 0a5.8 5.8 0 1 0 -11.6 0zM1448.4 1331.7a5.8 5.8 0 1 0 11.6 0a5.8 5.8 0 1 0 -11.6 0zM1455.2 1331.4a5.8 5.8 0 1 0 11.6 0a5.8 5.8 0 1 0 -11.6 0zM1462 1331.1a5.8 5.8 0 1 0 11.6 0a5.8 5.8 0 1 0 -11.6 0zM1468.7 1330.9a5.8 5.8 0 1 0 11.6 0a5.8 5.8 0 1 0 -11.6 0zM1475.5 1330.6a5.8 5.8 0 1 0 11.6 0a5.8 5.8 0 1 0 -11.6 0zM1482.3 1330.4a5.8 5.8 0 1 0 11.6 0a5.8 5.8 0 1 0 -11.6 0zM1489.1 1330.2a5.8 5.8 0 1 0 11.6 0a5.8 5.8 0 1 0 -11.6 0zM1495.9 1330a5.8 5.8 0 1 0 11.6 0a5.8 5.8 0 1 0 -11.6 0zM1502.7 1329.8a5.8 5.8 0 1 0 11.6 0a5.8 5.8 0 1 0 -11.6 0zM1509.4 1329.6a5.8 5.8 0 1 0 11.6 0a5.8 5.8 0 1 0 -11.6 0zM1516.2 1329.5a5.8 5.8 0 1 0 11.6 0a5.8 5.8 0 1 0 -11.6 0zM1523 1329.3a5.8 5.8 0 1 0 11.6 0a5.8 5.8 0 1 0 -11.6 0zM1529.8 1329.2a5.8 5.8 0 1 0 11.6 0a5.8 5.8 0 1 0 -11.6 0zM1536.6 1329a5.8 5.8 0 1 0 11.6 0a5.8 5.8 0 1 0 -11.6 0zM1543.4 1328.9a5.8 5.8 0 1 0 11.6 0a5.8 5.8 0 1 0 -11.6 0zM1550.1 1328.7a5.8 5.8 0 1 0 11.6 0a5.8 5.8 0 1 0 -11.6 0zM1556.9 1328.6a5.8 5.8 0 1 0 11.6 0a5.8 5.8 0 1 0 -11.6 0zM1563.7 1328.5a5.8 5.8 0 1 0 11.6 0a5.8 5.8 0 1 0 -11.6 0zM1570.5 1328.4a5.8 5.8 0 1 0 11.6 0a5.8 5.8 0 1 0 -11.6 0zM1577.3 1328.2a5.8 5.8 0 1 0 11.6 0a5.8 5.8 0 1 0 -11.6 0zM1584.1 1328.1a5.8 5.8 0 1 0 11.6 0a5.8 5.8 0 1 0 -11.6 0zM1590.8 1328a5.8 5.8 0 1 0 11.6 0a5.8 5.8 0 1 0 -11.6 0zM1597.6 1327.9a5.8 5.8 0 1 0 11.6 0a5.8 5.8 0 1 0 -11.6 0zM1604.4 1327.8a5.8 5.8 0 1 0 11.6 0a5.8 5.8 0 1 0 -11.6 0zM1611.2 1327.7a5.8 5.8 0 1 0 11.6 0a5.8 5.8 0 1 0 -11.6 0zM1618 1327.6a5.8 5.8 0 1 0 11.6 0a5.8 5.8 0 1 0 -11.6 0zM1624.8 1327.5a5.8 5.8 0 1 0 11.6 0a5.8 5.8 0 1 0 -11.6 0zM1631.5 1327.4a5.8 5.8 0 1 0 11.6 0a5.8 5.8 0 1 0 -11.6 0zM1638.3 1327.3a5.8 5.8 0 1 0 11.6 0a5.8 5.8 0 1 0 -11.6 0zM1645.1 1327.1a5.8 5.8 0 1 0 11.6 0a5.8 5.8 0 1 0 -11.6 0zM1651.9 1327a5.8 5.8 0 1 0 11.6 0a5.8 5.8 0 1 0 -11.6 0zM1658.7 1326.9a5.8 5.8 0 1 0 11.6 0a5.8 5.8 0 1 0 -11.6 0zM1665.5 1326.8a5.8 5.8 0 1 0 11.6 0a5.8 5.8 0 1 0 -11.6 0zM1672.2 1326.6a5.8 5.8 0 1 0 11.6 0a5.8 5.8 0 1 0 -11.6 0zM1679 1326.5a5.8 5.8 0 1 0 11.6 0a5.8 5.8 0 1 0 -11.6 0zM1685.8 1326.4a5.8 5.8 0 1 0 11.6 0a5.8 5.8 0 1 0 -11.6 0zM1692.6 1326.2a5.8 5.8 0 1 0 11.6 0a5.8 5.8 0 1 0 -11.6 0zM1699.4 1326.1a5.8 5.8 0 1 0 11.6 0a5.8 5.8 0 1 0 -11.6 0zM1706.2 1326a5.8 5.8 0 1 0 11.6 0a5.8 5.8 0 1 0 -11.6 0zM1712.9 1325.8a5.8 5.8 0 1 0 11.6 0a5.8 5.8 0 1 0 -11.6 0zM1719.7 1325.7a5.8 5.8 0 1 0 11.6 0a5.8 5.8 0 1 0 -11.6 0zM1726.5 1325.5a5.8 5.8 0 1 0 11.6 0a5.8 5.8 0 1 0 -11.6 0zM1733.3 1325.4a5.8 5.8 0 1 0 11.6 0a5.8 5.8 0 1 0 -11.6 0zM1740.1 1325.3a5.8 5.8 0 1 0 11.6 0a5.8 5.8 0 1 0 -11.6 0zM1746.9 1325.1a5.8 5.8 0 1 0 11.6 0a5.8 5.8 0 1 0 -11.6 0zM1753.6 1325a5.8 5.8 0 1 0 11.6 0a5.8 5.8 0 1 0 -11.6 0zM1760.4 1324.8a5.8 5.8 0 1 0 11.6 0a5.8 5.8 0 1 0 -11.6 0zM1767.2 1324.7a5.8 5.8 0 1 0 11.6 0a5.8 5.8 0 1 0 -11.6 0z" fill="#ff6600"/>
<path d="M1095.7 1374a5.8 5.8 0 1 0 11.6 0a5.8 5.8 0 1 0 -11.6 0zM1102.5 1366.7a5.8 5.8 0 1 0 11.6 0a5.8 5.8 0 1 0 -11.6 0zM1109.2 1364a5.8 5.8 0 1 0 11.6 0a5.8 5.8 0 1 0 -11.6 0zM1116 1362.8a5.8 5.8 0 1 0 11.6 0a5.8 5.8 0 1 0 -11.6 0zM1122.8 1362a5.8 5.8 0 1 0 11.6 0a5.8 5.8 0 1 0 -11.6 0zM1129.6 1361.3a5.8 5.8 0 1 0 11.6 0a5.8 5.8 0 1 0 -11.6 0zM1136.4 1360.6a5.8 5.8 0 1 0 11.6 0a5.8 5.8 0 1 0 -11.6 0zM1143.2 1360a5.8 5.8 0 1 0 11.6 0a5.8 5.8 0 1 0 -11.6 0zM1149.9 1359.5a5.8 5.8 0 1 0 11.6 0a5.8 5.8 0 1 0 -11.6 0zM1156.7 1358.8a5.8 5.8 0 1 0 11.6 0a5.8 5.8 0 1 0 -11.6 0zM1163.5 1358.1a5.8 5.8 0 1 0 11.6 0a5.8 5.8 0 1 0 -11.6 0zM1170.3 1357.4a5.8 5.8 0 1 0 11.6 0a5.8 5.8 0 1 0 -11.6 0zM1177.1 1356.6a5.8 5.8 0 1 0 11.6 0a5.8 5.8 0 1 0 -11.6 0zM1183.9 1355.9a5.8 5.8 0 1 0 11.6 0a5.8 5.8 0 1 0 -11.6 0zM1190.6 1355.1a5.8 5.8 0 1 0 11.6 0a5.8 5.8 0 1 0 -11.6 0zM1197.4 1354.3a5.8 5.8 0 1 0 11.6 0a5.8 5.8 0 1 0 -11.6 0zM1204.2 1353.4a5.8 5.8 0 1 0 11.6 0a5.8 5.8 0 1 0 -11.6 0zM1211 1352.5a5.8 5.8 0 1 0 11.6 0a5.8 5.8 0 1 0 -11.6 0zM1217.8 1351.5a5.8 5.8 0 1 0 11.6 0a5.8 5.8 0 1 0 -11.6 0zM1224.6 1350.3a5.8 5.8 0 1 0 11.6 0a5.8 5.8 0 1 0 -11.6 0zM1231.3 1349a5.8 5.8 0 1 0 11.6 0a5.8 5.8 0 1 0 -11.6 0zM1238.1 1347.5a5.8 5.8 0 1 0 11.6 0a5.8 5.8 0 1 0 -11.6 0zM1244.9 1346.1a5.8 5.8 0 1 0 11.6 0a5.8 5.8 0 1 0 -11.6 0zM1251.7 1344.7a5.8 5.8 0 1 0 11.6 0a5.8 5.8 0 1 0 -11.6 0zM1258.5 1343.6a5.8 5.8 0 1 0 11.6 0a5.8 5.8 0 1 0 -11.6 0zM1265.3 1342.8a5.8 5.8 0 1 0 11.6 0a5.8 5.8 0 1 0 -11.6 0zM1272 1342.1a5.8 5.8 0 1 0 11.6 0a5.8 5.8 0 1 0 -11.6 0zM1278.8 1341.4a5.8 5.8 0 1 0 11.6 0a5.8 5.8 0 1 0 -11.6 0zM1285.6 1340.8a5.8 5.8 0 1 0 11.6 0a5.8 5.8 0 1 0 -11.6 0zM1292.4 1340.3a5.8 5.8 0 1 0 11.6 0a5.8 5.8 0 1 0 -11.6 0zM1299.2 1339.7a5.8 5.8 0 1 0 11.6 0a5.8 5.8 0 1 0 -11.6 0zM1306 1339.2a5.8 5.8 0 1 0 11.6 0a5.8 5.8 0 1 0 -11.6 0zM1312.7 1338.7a5.8 5.8 0 1 0 11.6 0a5.8 5.8 0 1 0 -11.6 0zM1319.5 1338.3a5.8 5.8 0 1 0 11.6 0a5.8 5.8 0 1 0 -11.6 0zM1326.3 1337.8a5.8 5.8 0 1 0 11.6 0a5.8 5.8 0 1 0 -11.6 0zM1333.1 1337.4a5.8 5.8 0 1 0 11.6 0a5.8 5.8 0 1 0 -11.6 0zM1339.9 1337a5.8 5.8 0 1 0 11.6 0a5.8 5.8 0 1 0 -11.6 0zM1346.7 1336.6a5.8 5.8 0 1 0 11.6 0a5.8 5.8 0 1 0 -11.6 0zM1353.4 1336.2a5.8 5.8 0 1 0 11.6 0a5.8 5.8 0 1 0 -11.6 0zM1360.2 1335.7a5.8 5.8 0 1 0 11.6 0a5.8 5.8 0 1 0 -11.6 0zM1367 1335.3a5.8 5.8 0 1 0 11.6 0a5.8 5.8 0 1 0 -11.6 0zM1373.8 1334.9a5.8 5.8 0 1 0 11.6 0a5.8 5.8 0 1 0 -11.6 0zM1380.6 1334.5a5.8 5.8 0 1 0 11.6 0a5.8 5.8 0 1 0 -11.6 0zM1387.4 1334.1a5.8 5.8 0 1 0 11.6 0a5.8 5.8 0 1 0 -11.6 0zM1394.1 1333.7a5.8 5.8 0 1 0 11.6 0a5.8 5.8 0 1 0 -11.6 0zM1400.9 1333.3a5.8 5.8 0 1 0 11.6 0a5.8 5.8 0 1 0 -11.6 0zM1407.7 1333a5.8 5.8 0 1 0 11.6 0a5.8 5.8 0 1 0 -11.6 0zM1414.5 1332.6a5.8 5.8 0 1 0 11.6 0a5.8 5.8 0 1 0 -11.6 0zM1421.3 1332.2a5.8 5.8 0 1 0 11.6 0a5.8 5.8 0 1 0 -11.6 0zM1428 1331.9a5.8 5.8 0 1 0 11.6 0a5.8 5.8 0 1 0 -11.6 0zM1434.8 1331.6a5.8 5.8 0 1 0 11.6 0a5.8 5.8 0 1 0 -11.6 0zM1441.6 1331.2a5.8 5.8 0 1 0 11.6 0a5.8 5.8 0 1 0 -11.6 0zM1448.4 1330.9a5.8 5.8 0 1 0 11.6 0a5.8 5.8 0 1 0 -11.6 0zM1455.2 1330.6a5.8 5.8 0 1 0 11.6 0a5.8 5.8 0 1 0 -11.6 0zM1462 1330.3a5.8 5.8 0 1 0 11.6 0a5.8 5.8 0 1 0 -11.6 0zM1468.7 1330.1a5.8 5.8 0 1 0 11.6 0a5.8 5.8 0 1 0 -11.6 0zM1475.5 1329.8a5.8 5.8 0 1 0 11.6 0a5.8 5.8 0 1 0 -11.6 0zM1482.3 1329.6a5.8 5.8 0 1 0 11.6 0a5.8 5.8 0 1 0 -11.6 0zM1489.1 1329.4a5.8 5.8 0 1 0 11.6 0a5.8 5.8 0 1 0 -11.6 0zM1495.9 1329.2a5.8 5.8 0 1 0 11.6 0a5.8 5.8 0 1 0 -11.6 0zM1502.7 1329a5.8 5.8 0 1 0 11.6 0a5.8 5.8 0 1 0 -11.6 0zM1509.4 1328.8a5.8 5.8 0 1 0 11.6 0a5.8 5.8 0 1 0 -11.6 0zM1516.2 1328.7a5.8 5.8 0 1 0 11.6 0a5.8 5.8 0 1 0 -11.6 0zM1523 1328.5a5.8 5.8 0 1 0 11.6 0a5.8 5.8 0 1 0 -11.6 0zM1529.8 1328.3a5.8 5.8 0 1 0 11.6 0a5.8 5.8 0 1 0 -11.6 0zM1536.6 1328.2a5.8 5.8 0 1 0 11.6 0a5.8 5.8 0 1 0 -11.6 0zM1543.4 1328.1a5.8 5.8 0 1 0 11.6 0a5.8 5.8 0 1 0 -11.6 0zM1550.1 1327.9a5.8 5.8 0 1 0 11.6 0a5.8 5.8 0 1 0 -11.6 0zM1556.9 1327.8a5.8 5.8 0 1 0 11.6 0a5.8 5.8 0 1 0 -11.6 0zM1563.7 1327.7a5.8 5.8 0 1 0 11.6 0a5.8 5.8 0 1 0 -11.6 0zM1570.5 1327.5a5.8 5.8 0 1 0 11.6 0a5.8 5.8 0 1 0 -11.6 0zM1577.3 1327.4a5.8 5.8 0 1 0 11.6 0a5.8 5.8 0 1 0 -11.6 0zM1584.1 1327.3a5.8 5.8 0 1 0 11.6 0a5.8 5.8 0 1 0 -11.6 0zM1590.8 1327.2a5.8 5.8 0 1 0 11.6 0a5.8 5.8 0 1 0 -11.6 0zM1597.6 1327.1a5.8 5.8 0 1 0 11.6 0a5.8 5.8 0 1 0 -11.6 0zM1604.4 1327a5.8 5.8 0 1 0 11.6 0a5.8 5.8 0 1 0 -11.6 0zM1611.2 1326.9a5.8 5.8 0 1 0 11.6 0a5.8 5.8 0 1 0 -11.6 0zM1618 1326.8a5.8 5.8 0 1 0 11.6 0a5.8 5.8 0 1 0 -11.6 0zM1624.8 1326.6a5.8 5.8 0 1 0 11.6 0a5.8 5.8 0 1 0 -11.6 0zM1631.5 1326.5a5.8 5.8 0 1 0 11.6 0a5.8 5.8 0 1 0 -11.6 0zM1638.3 1326.4a5.8 5.8 0 1 0 11.6 0a5.8 5.8 0 1 0 -11.6 0zM1645.1 1326.3a5.8 5.8 0 1 0 11.6 0a5.8 5.8 0 1 0 -11.6 0zM1651.9 1326.2a5.8 5.8 0 1 0 11.6 0a5.8 5.8 0 1 0 -11.6 0zM1658.7 1326.1a5.8 5.8 0 1 0 11.6 0a5.8 5.8 0 1 0 -11.6 0zM1665.5 1325.9a5.8 5.8 0 1 0 11.6 0a5.8 5.8 0 1 0 -11.6 0zM1672.2 1325.8a5.8 5.8 0 1 0 11.6 0a5.8 5.8 0 1 0 -11.6 0zM1679 1325.7a5.8 5.8 0 1 0 11.6 0a5.8 5.8 0 1 0 -11.6 0zM1685.8 1325.5a5.8 5.8 0 1 0 11.6 0a5.8 5.8 0 1 0 -11.6 0zM1692.6 1325.4a5.8 5.8 0 1 0 11.6 0a5.8 5.8 0 1 0 -11.6 0zM1699.4 1325.2a5.8 5.8 0 1 0 11.6 0a5.8 5.8 0 1 0 -11.6 0zM1706.2 1325.1a5.8 5.8 0 1 0 11.6 0a5.8 5.8 0 1 0 -11.6 0zM1712.9 1324.9a5.8 5.8 0 1 0 11.6 0a5.8 5.8 0 1 0 -11.6 0zM1719.7 1324.8a5.8 5.8 0 1 0 11.6 0a5.8 5.8 0 1 0 -11.6 0zM1726.5 1324.6a5.8 5.8 0 1 0 11.6 0a5.8 5.8 0 1 0 -11.6 0zM1733.3 1324.5a5.8 5.8 0 1 0 11.6 0a5.8 5.8 0 1 0 -11.6 0zM1740.1 1324.4a5.8 5.8 0 1 0 11.6 0a5.8 5.8 0 1 0 -11.6 0zM1746.9 1324.2a5.8 5.8 0 1 0 11.6 0a5.8 5.8 0 1 0 -11.6 0zM1753.6 1324.1a5.8 5.8 0 1 0 11.6 0a5.8 5.8 0 1 0 -11.6 0zM1760.4 1323.9a5.8 5.8 0 1 0 11.6 0a5.8 5.8 0 1 0 -11.6 0zM1767.2 1323.8a5.8 5.8 0 1 0 11.6 0a5.8 5.8 0 1 0 -11.6 0z" fill="#009933"/>
<path d="M1095.7 1390.6a5.8 5.8 0 1 0 11.6 0a5.8 5.8 0 1 0 -11.6 0zM1102.5 1367.9a5.8 5.8 0 1 0 11.6 0a5.8 5.8 0 1 0 -11.6 0zM1109.2 1361.6a5.8 5.8 0 1 0 11.6 0a5.8 5.8 0 1 0 -11.6 0zM1116 1360.2a5.8 5.8 0 1 0 11.6 0a5.8 5.8 0 1 0 -11.6 0zM1122.8 1359.3a5.8 5.8 0 1 0 11.6 0a5.8 5.8 0 1 0 -11.6 0zM1129.6 1358.6a5.8 5.8 0 1 0 11.6 0a5.8 5.8 0 1 0 -11.6 0zM1136.4 1358.1a5.8 5.8 0 1 0 11.6 0a5.8 5.8 0 1 0 -11.6 0zM1143.2 1357.6a5.8 5.8 0 1 0 11.6 0a5.8 5.8 0 1 0 -11.6 0zM1149.9 1357.2a5.8 5.8 0 1 0 11.6 0a5.8 5.8 0 1 0 -11.6 0zM1156.7 1356.6a5.8 5.8 0 1 0 11.6 0a5.8 5.8 0 1 0 -11.6 0zM1163.5 1355.9a5.8 5.8 0 1 0 11.6 0a5.8 5.8 0 1 0 -11.6 0zM1170.3 1355.2a5.8 5.8 0 1 0 11.6 0a5.8 5.8 0 1 0 -11.6 0zM1177.1 1354.5a5.8 5.8 0 1 0 11.6 0a5.8 5.8 0 1 0 -11.6 0zM1183.9 1353.8a5.8 5.8 0 1 0 11.6 0a5.8 5.8 0 1 0 -11.6 0zM1190.6 1353.2a5.8 5.8 0 1 0 11.6 0a5.8 5.8 0 1 0 -11.6 0zM1197.4 1352.6a5.8 5.8 0 1 0 11.6 0a5.8 5.8 0 1 0 -11.6 0zM1204.2 1352a5.8 5.8 0 1 0 11.6 0a5.8 5.8 0 1 0 -11.6 0zM1211 1351.5a5.8 5.8 0 1 0 11.6 0a5.8 5.8 0 1 0 -11.6 0zM1217.8 1350.9a5.8 5.8 0 1 0 11.6 0a5.8 5.8 0 1 0 -11.6 0zM1224.6 1350.4a5.8 5.8 0 1 0 11.6 0a5.8 5.8 0 1 0 -11.6 0zM1231.3 1350a5.8 5.8 0 1 0 11.6 0a5.8 5.8 0 1 0 -11.6 0zM1238.1 1349.5a5.8 5.8 0 1 0 11.6 0a5.8 5.8 0 1 0 -11.6 0zM1244.9 1349.1a5.8 5.8 0 1 0 11.6 0a5.8 5.8 0 1 0 -11.6 0zM1251.7 1348.7a5.8 5.8 0 1 0 11.6 0a5.8 5.8 0 1 0 -11.6 0zM1258.5 1348.3a5.8 5.8 0 1 0 11.6 0a5.8 5.8 0 1 0 -11.6 0zM1265.3 1347.9a5.8 5.8 0 1 0 11.6 0a5.8 5.8 0 1 0 -11.6 0zM1272 1347.5a5.8 5.8 0 1 0 11.6 0a5.8 5.8 0 1 0 -11.6 0zM1278.8 1347.2a5.8 5.8 0 1 0 11.6 0a5.8 5.8 0 1 0 -11.6 0zM1285.6 1346.8a5.8 5.8 0 1 0 11.6 0a5.8 5.8 0 1 0 -11.6 0zM1292.4 1346.5a5.8 5.8 0 1 0 11.6 0a5.8 5.8 0 1 0 -11.6 0zM1299.2 1346.1a5.8 5.8 0 1 0 11.6 0a5.8 5.8 0 1 0 -11.6 0zM1306 1345.8a5.8 5.8 0 1 0 11.6 0a5.8 5.8 0 1 0 -11.6 0zM1312.7 1345.5a5.8 5.8 0 1 0 11.6 0a5.8 5.8 0 1 0 -11.6 0zM1319.5 1345.2a5.8 5.8 0 1 0 11.6 0a5.8 5.8 0 1 0 -11.6 0zM1326.3 1344.9a5.8 5.8 0 1 0 11.6 0a5.8 5.8 0 1 0 -11.6 0zM1333.1 1344.7a5.8 5.8 0 1 0 11.6 0a5.8 5.8 0 1 0 -11.6 0zM1339.9 1344.4a5.8 5.8 0 1 0 11.6 0a5.8 5.8 0 1 0 -11.6 0zM1346.7 1344.1a5.8 5.8 0 1 0 11.6 0a5.8 5.8 0 1 0 -11.6 0zM1353.4 1343.9a5.8 5.8 0 1 0 11.6 0a5.8 5.8 0 1 0 -11.6 0zM1360.2 1343.6a5.8 5.8 0 1 0 11.6 0a5.8 5.8 0 1 0 -11.6 0zM1367 1343.3a5.8 5.8 0 1 0 11.6 0a5.8 5.8 0 1 0 -11.6 0zM1373.8 1343.1a5.8 5.8 0 1 0 11.6 0a5.8 5.8 0 1 0 -11.6 0zM1380.6 1342.8a5.8 5.8 0 1 0 11.6 0a5.8 5.8 0 1 0 -11.6 0zM1387.4 1342.6a5.8 5.8 0 1 0 11.6 0a5.8 5.8 0 1 0 -11.6 0zM1394.1 1342.3a5.8 5.8 0 1 0 11.6 0a5.8 5.8 0 1 0 -11.6 0zM1400.9 1342.1a5.8 5.8 0 1 0 11.6 0a5.8 5.8 0 1 0 -11.6 0zM1407.7 1341.9a5.8 5.8 0 1 0 11.6 0a5.8 5.8 0 1 0 -11.6 0zM1414.5 1341.6a5.8 5.8 0 1 0 11.6 0a5.8 5.8 0 1 0 -11.6 0zM1421.3 1341.4a5.8 5.8 0 1 0 11.6 0a5.8 5.8 0 1 0 -11.6 0zM1428 1341.2a5.8 5.8 0 1 0 11.6 0a5.8 5.8 0 1 0 -11.6 0zM1434.8 1341a5.8 5.8 0 1 0 11.6 0a5.8 5.8 0 1 0 -11.6 0zM1441.6 1340.8a5.8 5.8 0 1 0 11.6 0a5.8 5.8 0 1 0 -11.6 0zM1448.4 1340.5a5.8 5.8 0 1 0 11.6 0a5.8 5.8 0 1 0 -11.6 0zM1455.2 1340.3a5.8 5.8 0 1 0 11.6 0a5.8 5.8 0 1 0 -11.6 0zM1462 1340.1a5.8 5.8 0 1 0 11.6 0a5.8 5.8 0 1 0 -11.6 0zM1468.7 1339.9a5.8 5.8 0 1 0 11.6 0a5.8 5.8 0 1 0 -11.6 0zM1475.5 1339.7a5.8 5.8 0 1 0 11.6 0a5.8 5.8 0 1 0 -11.6 0zM1482.3 1339.6a5.8 5.8 0 1 0 11.6 0a5.8 5.8 0 1 0 -11.6 0zM1489.1 1339.4a5.8 5.8 0 1 0 11.6 0a5.8 5.8 0 1 0 -11.6 0zM1495.9 1339.2a5.8 5.8 0 1 0 11.6 0a5.8 5.8 0 1 0 -11.6 0zM1502.7 1339a5.8 5.8 0 1 0 11.6 0a5.8 5.8 0 1 0 -11.6 0zM1509.4 1338.8a5.8 5.8 0 1 0 11.6 0a5.8 5.8 0 1 0 -11.6 0zM1516.2 1338.7a5.8 5.8 0 1 0 11.6 0a5.8 5.8 0 1 0 -11.6 0zM1523 1338.5a5.8 5.8 0 1 0 11.6 0a5.8 5.8 0 1 0 -11.6 0zM1529.8 1338.3a5.8 5.8 0 1 0 11.6 0a5.8 5.8 0 1 0 -11.6 0zM1536.6 1338.2a5.8 5.8 0 1 0 11.6 0a5.8 5.8 0 1 0 -11.6 0zM1543.4 1338a5.8 5.8 0 1 0 11.6 0a5.8 5.8 0 1 0 -11.6 0zM1550.1 1337.8a5.8 5.8 0 1 0 11.6 0a5.8 5.8 0 1 0 -11.6 0zM1556.9 1337.7a5.8 5.8 0 1 0 11.6 0a5.8 5.8 0 1 0 -11.6 0zM1563.7 1337.5a5.8 5.8 0 1 0 11.6 0a5.8 5.8 0 1 0 -11.6 0zM1570.5 1337.4a5.8 5.8 0 1 0 11.6 0a5.8 5.8 0 1 0 -11.6 0zM1577.3 1337.2a5.8 5.8 0 1 0 11.6 0a5.8 5.8 0 1 0 -11.6 0zM1584.1 1337.1a5.8 5.8 0 1 0 11.6 0a5.8 5.8 0 1 0 -11.6 0zM1590.8 1336.9a5.8 5.8 0 1 0 11.6 0a5.8 5.8 0 1 0 -11.6 0zM1597.6 1336.8a5.8 5.8 0 1 0 11.6 0a5.8 5.8 0 1 0 -11.6 0zM1604.4 1336.6a5.8 5.8 0 1 0 11.6 0a5.8 5.8 0 1 0 -11.6 0zM1611.2 1336.5a5.8 5.8 0 1 0 11.6 0a5.8 5.8 0 1 0 -11.6 0zM1618 1336.4a5.8 5.8 0 1 0 11.6 0a5.8 5.8 0 1 0 -11.6 0zM1624.8 1336.2a5.8 5.8 0 1 0 11.6 0a5.8 5.8 0 1 0 -11.6 0zM1631.5 1336.1a5.8 5.8 0 1 0 11.6 0a5.8 5.8 0 1 0 -11.6 0zM1638.3 1336a5.8 5.8 0 1 0 11.6 0a5.8 5.8 0 1 0 -11.6 0zM1645.1 1335.8a5.8 5.8 0 1 0 11.6 0a5.8 5.8 0 1 0 -11.6 0zM1651.9 1335.7a5.8 5.8 0 1 0 11.6 0a5.8 5.8 0 1 0 -11.6 0zM1658.7 1335.6a5.8 5.8 0 1 0 11.6 0a5.8 5.8 0 1 0 -11.6 0zM1665.5 1335.4a5.8 5.8 0 1 0 11.6 0a5.8 5.8 0 1 0 -11.6 0zM1672.2 1335.3a5.8 5.8 0 1 0 11.6 0a5.8 5.8 0 1 0 -11.6 0zM1679 1335.2a5.8 5.8 0 1 0 11.6 0a5.8 5.8 0 1 0 -11.6 0zM1685.8 1335a5.8 5.8 0 1 0 11.6 0a5.8 5.8 0 1 0 -11.6 0zM1692.6 1334.9a5.8 5.8 0 1 0 11.6 0a5.8 5.8 0 1 0 -11.6 0zM1699.4 1334.8a5.8 5.8 0 1 0 11.6 0a5.8 5.8 0 1 0 -11.6 0zM1706.2 1334.7a5.8 5.8 0 1 0 11.6 0a5.8 5.8 0 1 0 -11.6 0zM1712.9 1334.5a5.8 5.8 0 1 0 11.6 0a5.8 5.8 0 1 0 -11.6 0zM1719.7 1334.4a5.8 5.8 0 1 0 11.6 0a5.8 5.8 0 1 0 -11.6 0zM1726.5 1334.3a5.8 5.8 0 1 0 11.6 0a5.8 5.8 0 1 0 -11.6 0zM1733.3 1334.2a5.8 5.8 0 1 0 11.6 0a5.8 5.8 0 1 0 -11.6 0zM1740.1 1334.1a5.8 5.8 0 1 0 11.6 0a5.8 5.8 0 1 0 -11.6 0zM1746.9 1333.9a5.8 5.8 0 1 0 11.6 0a5.8 5.8 0 1 0 -11.6 0zM1753.6 1333.8a5.8 5.8 0 1 0 11.6 0a5.8 5.8 0 1 0 -11.6 0zM1760.4 1333.7a5.8 5.8 0 1 0 11.6 0a5.8 5.8 0 1 0 -11.6 0zM1767.2 1333.6a5.8 5.8 0 1 0 11.6 0a5.8 5.8 0 1 0 -11.6 0z" fill="#000000"/>
<text x="1094.7" y="1455" font-size="34.5" text-anchor="middle">0</text>
<text x="1162.5" y="1455" font-size="34.5" text-anchor="middle">10</text>
<text x="1230.4" y="1455" font-size="34.5" text-anchor="middle">20</text>
<text x="1298.2" y="1455" font-size="34.5" text-anchor="middle">30</text>
<text x="1366" y="1455" font-size="34.5" text-anchor="middle">40</text>
<text x="1433.8" y="1455" font-size="34.5" text-anchor="middle">50</text>
<text x="1501.7" y="1455" font-size="34.5" text-anchor="middle">60</text>
<text x="1569.5" y="1455" font-size="34.5" text-anchor="middle">70</text>
<text x="1637.3" y="1455" font-size="34.5" text-anchor="middle">80</text>
<text x="1705.2" y="1455" font-size="34.5" text-anchor="middle">90</text>
<text x="1773" y="1455" font-size="34.5" text-anchor="middle">100</text>
<text x="1082.8" y="1424.3" font-size="34.5" text-anchor="end">0</text>
<text x="1082.8" y="1367.8" font-size="34.5" text-anchor="end">0.1</text>
<text x="1082.8" y="1311.4" font-size="34.5" text-anchor="end">0.2</text>
<text x="1082.8" y="1254.9" font-size="34.5" text-anchor="end">0.3</text>
<text x="1082.8" y="1198.5" font-size="34.5" text-anchor="end">0.4</text>
<text x="1082.8" y="1142" font-size="34.5" text-anchor="end">0.5</text>
<text x="1082.8" y="1085.5" font-size="34.5" text-anchor="end">0.6</text>
<text x="1082.8" y="1029.1" font-size="34.5" text-anchor="end">0.7</text>
<text x="1082.8" y="972.6" font-size="34.5" text-anchor="end">0.8</text>
<text x="1082.8" y="916.2" font-size="34.5" text-anchor="end">0.9</text>
<text x="1082.8" y="859.7" font-size="34.5" text-anchor="end">1</text>
<text x="957.2" y="787.6" font-size="42.5" text-anchor="start">(d)</text>
<text x="1433.9" y="1499.6" font-size="41.0" text-anchor="middle">Cycle Number</text>
<text x="1022" y="1130.6" font-size="41.0" text-anchor="middle" transform="rotate(-90 1022 1130.6)">Polarization (V)</text>
<circle cx="1169.1" cy="955.8" r="10" fill="#000000"/>
<text x="1211.4" y="965.1" font-size="31.5" text-anchor="start">DPM</text>
<circle cx="1169.1" cy="996.4" r="10" fill="#0000ff"/>
<text x="1211.4" y="1006" font-size="31.5" text-anchor="start">100 rpm</text>
<circle cx="1169.1" cy="1037" r="10" fill="#ff0000"/>
<text x="1211.4" y="1046.8" font-size="31.5" text-anchor="start">200 rpm</text>
<circle cx="1382.7" cy="958.1" r="10" fill="#ff6600"/>
<text x="1425.4" y="966.8" font-size="31.5" text-anchor="start">300 rpm</text>
<circle cx="1382.7" cy="998.7" r="10" fill="#009933"/>
<text x="1425.4" y="1007.8" font-size="31.5" text-anchor="start">400 rpm</text>
</g>
</svg>
</body></html>
